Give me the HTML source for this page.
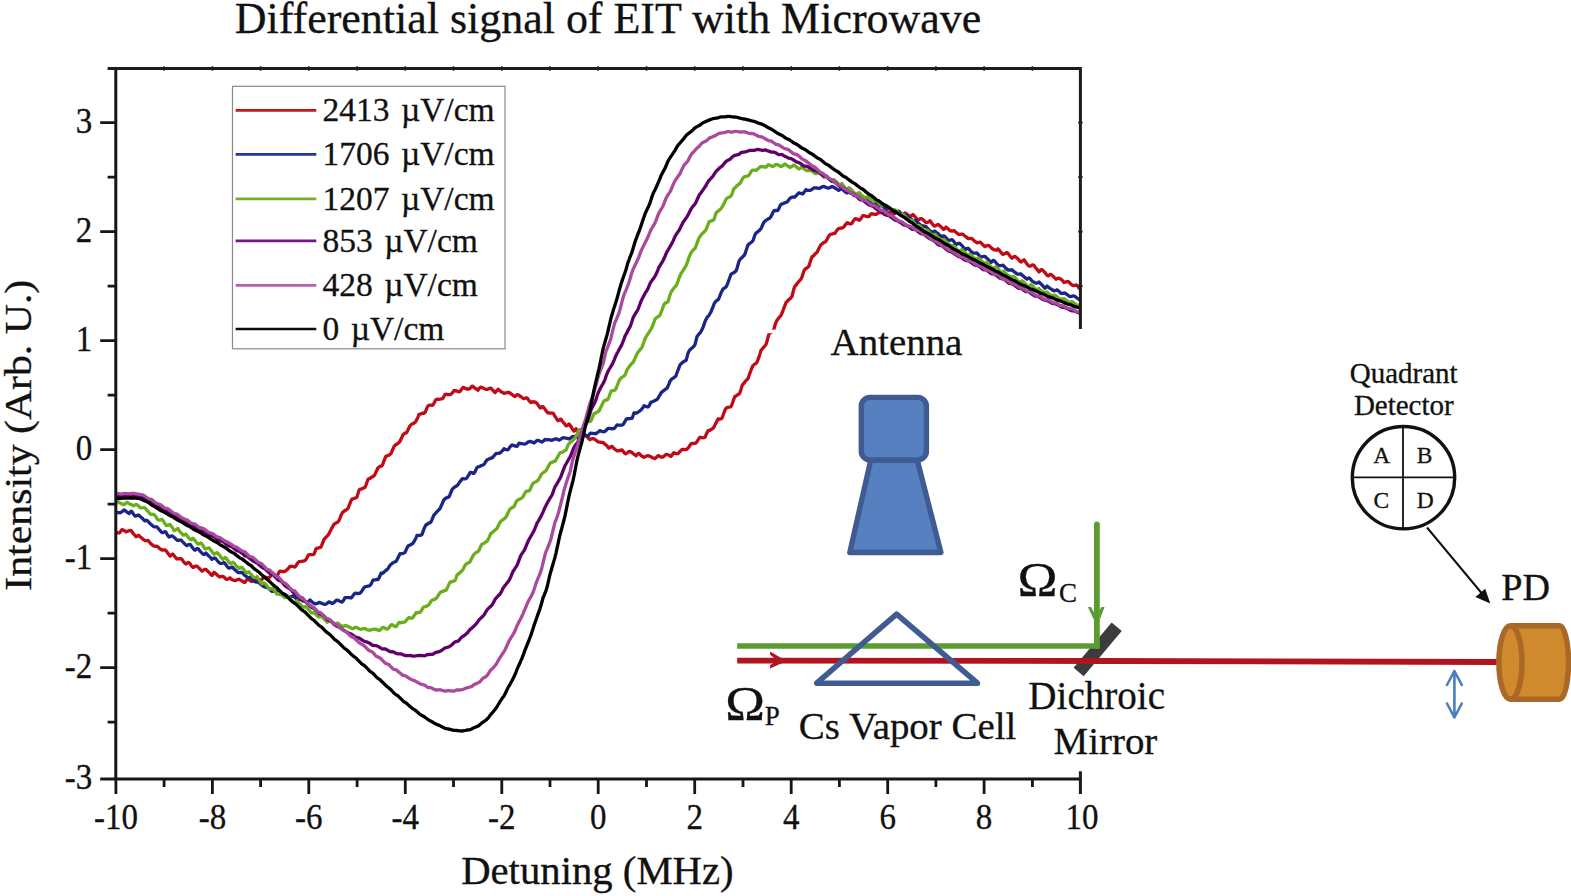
<!DOCTYPE html>
<html><head><meta charset="utf-8"><title>Differential signal of EIT with Microwave</title>
<style>
html,body{margin:0;padding:0;background:#fff;}
body{width:1571px;height:896px;overflow:hidden;}
svg{display:block;}
text{font-family:"Liberation Serif","Times New Roman",serif;fill:#111;stroke:#111;stroke-width:0.3px;}
</style></head><body>
<svg width="1571" height="896" viewBox="0 0 1571 896">
<rect width="1571" height="896" fill="#fff"/>
<g>
<text x="608" y="33.1" font-size="43.8" text-anchor="middle" textLength="746.5" lengthAdjust="spacingAndGlyphs">Differential signal of EIT with Microwave</text>
<g fill="none" stroke-linejoin="round" stroke-linecap="butt">
<path stroke="#c00a14" stroke-width="3.3" d="M116.0 532.2 L117.0 532.5 L118.0 532.8 L119.0 533.0 L120.0 532.4 L121.0 530.8 L122.0 529.6 L123.0 529.8 L124.0 530.5 L125.0 531.0 L126.0 531.9 L127.0 531.3 L128.0 531.1 L129.0 530.7 L130.0 530.6 L131.0 530.4 L132.0 531.8 L133.0 533.2 L134.0 534.4 L135.0 535.5 L136.0 536.8 L137.0 536.3 L138.0 535.5 L139.0 535.5 L140.0 536.7 L141.0 537.5 L142.0 538.3 L143.0 539.1 L144.0 539.8 L145.0 540.6 L146.0 540.7 L147.0 540.6 L148.0 540.5 L149.0 541.4 L150.0 542.7 L151.0 543.9 L152.0 544.6 L153.0 545.4 L154.0 545.9 L155.0 546.4 L156.0 546.2 L157.0 546.4 L158.0 546.8 L159.0 547.9 L160.0 548.8 L161.0 549.5 L162.0 550.1 L163.0 549.8 L164.0 550.0 L165.0 549.9 L166.0 550.6 L167.0 551.9 L168.0 553.6 L169.0 554.5 L170.0 556.1 L171.0 555.5 L172.0 554.6 L173.0 554.1 L174.0 555.5 L175.0 556.8 L176.0 558.0 L177.0 559.0 L178.0 558.8 L179.0 558.9 L180.0 558.6 L181.0 558.6 L182.0 559.3 L183.0 561.0 L184.0 562.2 L185.0 563.3 L186.0 564.0 L187.0 563.3 L188.0 562.5 L189.0 562.6 L190.0 563.7 L191.0 565.2 L192.0 566.5 L193.0 567.4 L194.0 567.1 L195.0 566.4 L196.0 566.0 L197.0 566.2 L198.0 567.2 L199.0 568.1 L200.0 569.0 L201.0 570.2 L202.0 571.2 L203.0 570.5 L204.0 569.7 L205.0 569.3 L206.0 569.4 L207.0 570.6 L208.0 571.5 L209.0 572.5 L210.0 573.3 L211.0 574.7 L212.0 575.5 L213.0 574.0 L214.0 572.3 L215.0 573.1 L216.0 573.8 L217.0 574.9 L218.0 575.7 L219.0 576.7 L220.0 577.0 L221.0 576.7 L222.0 576.3 L223.0 576.3 L224.0 577.2 L225.0 578.1 L226.0 579.2 L227.0 579.4 L228.0 578.9 L229.0 578.4 L230.0 577.8 L231.0 578.9 L232.0 579.5 L233.0 580.0 L234.0 580.4 L235.0 580.7 L236.0 580.2 L237.0 579.9 L238.0 579.5 L239.0 579.2 L240.0 579.8 L241.0 580.4 L242.0 580.9 L243.0 581.7 L244.0 582.4 L245.0 582.3 L246.0 580.7 L247.0 579.5 L248.0 578.9 L249.0 579.8 L250.0 580.4 L251.0 581.3 L252.0 581.5 L253.0 581.3 L254.0 580.4 L255.0 579.6 L256.0 578.8 L257.0 579.0 L258.0 579.5 L259.0 579.6 L260.0 579.6 L261.0 579.7 L262.0 579.4 L263.0 578.0 L264.0 576.5 L265.0 577.0 L266.0 577.3 L267.0 577.7 L268.0 577.8 L269.0 578.1 L270.0 576.8 L271.0 575.6 L272.0 573.9 L273.0 574.3 L274.0 574.7 L275.0 575.0 L276.0 575.4 L277.0 576.0 L278.0 574.2 L279.0 572.3 L280.0 571.1 L281.0 571.3 L282.0 571.5 L283.0 571.5 L284.0 571.6 L285.0 571.2 L286.0 570.7 L287.0 569.7 L288.0 568.8 L289.0 567.7 L290.0 566.3 L291.0 566.4 L292.0 566.2 L293.0 566.6 L294.0 566.8 L295.0 567.0 L296.0 565.9 L297.0 564.0 L298.0 562.7 L299.0 561.6 L300.0 561.7 L301.0 561.3 L302.0 561.3 L303.0 561.1 L304.0 560.8 L305.0 560.5 L306.0 559.6 L307.0 557.7 L308.0 555.6 L309.0 554.7 L310.0 554.6 L311.0 554.6 L312.0 554.6 L313.0 554.6 L314.0 554.2 L315.0 551.6 L316.0 548.9 L317.0 548.2 L318.0 548.2 L319.0 547.8 L320.0 547.4 L321.0 546.9 L322.0 544.6 L323.0 542.2 L324.0 539.4 L325.0 538.3 L326.0 537.2 L327.0 536.3 L328.0 535.1 L329.0 533.8 L330.0 531.5 L331.0 529.8 L332.0 527.7 L333.0 526.0 L334.0 524.2 L335.0 523.6 L336.0 522.9 L337.0 522.4 L338.0 521.9 L339.0 520.5 L340.0 518.1 L341.0 515.5 L342.0 513.4 L343.0 512.0 L344.0 511.4 L345.0 510.3 L346.0 510.1 L347.0 509.3 L348.0 508.5 L349.0 505.9 L350.0 503.4 L351.0 500.8 L352.0 499.0 L353.0 498.8 L354.0 498.5 L355.0 498.2 L356.0 497.8 L357.0 497.1 L358.0 493.6 L359.0 490.3 L360.0 489.1 L361.0 489.2 L362.0 488.8 L363.0 488.3 L364.0 487.8 L365.0 487.5 L366.0 485.0 L367.0 482.2 L368.0 479.3 L369.0 478.8 L370.0 478.4 L371.0 477.6 L372.0 477.1 L373.0 476.4 L374.0 475.8 L375.0 474.5 L376.0 471.9 L377.0 469.9 L378.0 467.8 L379.0 467.1 L380.0 466.4 L381.0 466.2 L382.0 465.7 L383.0 463.7 L384.0 460.8 L385.0 458.3 L386.0 456.2 L387.0 455.8 L388.0 455.5 L389.0 455.1 L390.0 454.4 L391.0 453.7 L392.0 451.1 L393.0 449.1 L394.0 446.5 L395.0 445.5 L396.0 444.4 L397.0 444.1 L398.0 443.3 L399.0 442.4 L400.0 441.2 L401.0 439.0 L402.0 437.0 L403.0 434.8 L404.0 433.9 L405.0 433.1 L406.0 433.0 L407.0 432.1 L408.0 429.8 L409.0 427.7 L410.0 425.8 L411.0 424.8 L412.0 424.0 L413.0 423.6 L414.0 423.0 L415.0 422.4 L416.0 421.1 L417.0 419.1 L418.0 417.2 L419.0 414.3 L420.0 414.1 L421.0 413.8 L422.0 413.3 L423.0 413.1 L424.0 413.3 L425.0 412.5 L426.0 410.4 L427.0 407.7 L428.0 405.9 L429.0 405.4 L430.0 405.2 L431.0 405.1 L432.0 405.3 L433.0 405.1 L434.0 403.2 L435.0 401.2 L436.0 399.5 L437.0 399.3 L438.0 399.2 L439.0 399.3 L440.0 399.2 L441.0 399.0 L442.0 398.8 L443.0 398.1 L444.0 396.4 L445.0 394.6 L446.0 394.2 L447.0 394.3 L448.0 394.6 L449.0 394.6 L450.0 394.7 L451.0 394.2 L452.0 393.2 L453.0 392.1 L454.0 390.5 L455.0 390.8 L456.0 390.7 L457.0 391.2 L458.0 391.5 L459.0 391.9 L460.0 391.5 L461.0 390.0 L462.0 388.8 L463.0 387.4 L464.0 387.8 L465.0 388.3 L466.0 388.8 L467.0 388.7 L468.0 389.2 L469.0 389.1 L470.0 388.6 L471.0 387.3 L472.0 386.1 L473.0 386.6 L474.0 387.4 L475.0 388.0 L476.0 388.9 L477.0 389.3 L478.0 390.2 L479.0 388.8 L480.0 387.5 L481.0 387.2 L482.0 387.4 L483.0 387.9 L484.0 388.4 L485.0 389.0 L486.0 389.3 L487.0 389.5 L488.0 389.1 L489.0 388.6 L490.0 388.2 L491.0 388.2 L492.0 389.3 L493.0 390.6 L494.0 391.5 L495.0 392.6 L496.0 391.6 L497.0 390.4 L498.0 389.2 L499.0 389.9 L500.0 390.9 L501.0 391.7 L502.0 392.3 L503.0 392.8 L504.0 393.3 L505.0 393.2 L506.0 392.8 L507.0 392.6 L508.0 392.2 L509.0 392.6 L510.0 393.1 L511.0 393.9 L512.0 394.5 L513.0 395.3 L514.0 396.0 L515.0 396.6 L516.0 395.6 L517.0 394.7 L518.0 394.8 L519.0 395.3 L520.0 396.2 L521.0 396.6 L522.0 397.6 L523.0 398.2 L524.0 398.7 L525.0 398.3 L526.0 397.9 L527.0 397.9 L528.0 399.1 L529.0 400.6 L530.0 401.8 L531.0 402.6 L532.0 401.9 L533.0 401.7 L534.0 402.2 L535.0 401.9 L536.0 402.5 L537.0 403.4 L538.0 405.0 L539.0 406.3 L540.0 407.8 L541.0 407.8 L542.0 406.7 L543.0 406.6 L544.0 407.9 L545.0 409.2 L546.0 410.6 L547.0 412.1 L548.0 413.0 L549.0 412.8 L550.0 413.1 L551.0 413.1 L552.0 413.2 L553.0 413.1 L554.0 414.6 L555.0 416.3 L556.0 417.9 L557.0 419.5 L558.0 420.7 L559.0 420.3 L560.0 419.6 L561.0 419.1 L562.0 420.8 L563.0 422.0 L564.0 423.1 L565.0 424.4 L566.0 425.8 L567.0 425.7 L568.0 425.0 L569.0 424.0 L570.0 425.1 L571.0 426.8 L572.0 428.2 L573.0 430.1 L574.0 431.2 L575.0 430.5 L576.0 428.7 L577.0 430.0 L578.0 430.9 L579.0 432.1 L580.0 433.1 L581.0 433.7 L582.0 434.7 L583.0 434.6 L584.0 434.6 L585.0 434.7 L586.0 435.6 L587.0 436.6 L588.0 437.8 L589.0 438.8 L590.0 439.7 L591.0 438.9 L592.0 438.9 L593.0 438.5 L594.0 438.8 L595.0 439.5 L596.0 440.2 L597.0 441.1 L598.0 441.7 L599.0 442.2 L600.0 442.2 L601.0 442.5 L602.0 442.3 L603.0 442.3 L604.0 443.4 L605.0 444.2 L606.0 445.0 L607.0 445.8 L608.0 447.3 L609.0 448.2 L610.0 447.4 L611.0 446.7 L612.0 446.4 L613.0 447.6 L614.0 448.4 L615.0 449.3 L616.0 450.0 L617.0 450.8 L618.0 450.8 L619.0 450.5 L620.0 450.5 L621.0 450.2 L622.0 449.9 L623.0 451.1 L624.0 452.5 L625.0 453.5 L626.0 453.8 L627.0 453.0 L628.0 452.3 L629.0 451.4 L630.0 451.5 L631.0 452.1 L632.0 452.6 L633.0 453.4 L634.0 454.3 L635.0 454.8 L636.0 455.8 L637.0 454.7 L638.0 453.8 L639.0 453.4 L640.0 454.4 L641.0 455.4 L642.0 456.2 L643.0 456.6 L644.0 457.3 L645.0 456.9 L646.0 456.3 L647.0 455.9 L648.0 455.7 L649.0 455.8 L650.0 456.4 L651.0 456.8 L652.0 457.4 L653.0 457.9 L654.0 458.3 L655.0 458.7 L656.0 457.6 L657.0 456.8 L658.0 455.6 L659.0 456.1 L660.0 456.6 L661.0 457.0 L662.0 457.0 L663.0 457.1 L664.0 456.1 L665.0 455.4 L666.0 454.4 L667.0 454.6 L668.0 454.9 L669.0 455.1 L670.0 455.9 L671.0 456.4 L672.0 455.3 L673.0 453.4 L674.0 452.7 L675.0 453.3 L676.0 453.6 L677.0 453.7 L678.0 453.7 L679.0 452.5 L680.0 451.5 L681.0 450.3 L682.0 449.6 L683.0 449.3 L684.0 449.5 L685.0 449.6 L686.0 449.5 L687.0 449.1 L688.0 448.1 L689.0 446.9 L690.0 445.2 L691.0 443.8 L692.0 443.4 L693.0 443.6 L694.0 443.5 L695.0 443.2 L696.0 443.2 L697.0 441.7 L698.0 440.0 L699.0 438.3 L700.0 437.2 L701.0 437.7 L702.0 437.7 L703.0 437.8 L704.0 437.7 L705.0 437.3 L706.0 434.9 L707.0 432.7 L708.0 430.6 L709.0 430.7 L710.0 430.2 L711.0 429.4 L712.0 428.9 L713.0 428.3 L714.0 427.0 L715.0 424.9 L716.0 422.9 L717.0 421.2 L718.0 418.9 L719.0 419.3 L720.0 419.0 L721.0 418.9 L722.0 418.2 L723.0 415.5 L724.0 412.8 L725.0 410.1 L726.0 408.3 L727.0 407.6 L728.0 407.3 L729.0 407.2 L730.0 407.0 L731.0 406.6 L732.0 404.5 L733.0 401.5 L734.0 398.6 L735.0 396.3 L736.0 396.0 L737.0 395.3 L738.0 394.3 L739.0 394.1 L740.0 392.5 L741.0 389.4 L742.0 385.9 L743.0 384.1 L744.0 383.3 L745.0 381.7 L746.0 380.7 L747.0 379.6 L748.0 378.6 L749.0 375.7 L750.0 372.9 L751.0 370.2 L752.0 367.6 L753.0 365.5 L754.0 364.8 L755.0 363.8 L756.0 363.5 L757.0 362.3 L758.0 359.6 L759.0 356.7 L760.0 353.7 L761.0 350.4 L762.0 349.2 L763.0 348.0 L764.0 346.8 L765.0 345.8 L766.0 344.4 L767.0 341.3 L768.0 337.3 L769.0 333.9 L770.0 333.0 L771.0 332.5 L772.0 331.8 L773.0 330.5 L774.0 328.7 L775.0 325.2 L776.0 322.3 L777.0 320.2 L778.0 318.9 L779.0 317.7 L780.0 316.6 L781.0 315.4 L782.0 313.0 L783.0 310.7 L784.0 307.8 L785.0 305.4 L786.0 302.4 L787.0 301.5 L788.0 300.6 L789.0 299.4 L790.0 298.8 L791.0 297.7 L792.0 296.6 L793.0 292.3 L794.0 288.5 L795.0 286.1 L796.0 285.2 L797.0 283.8 L798.0 282.4 L799.0 281.2 L800.0 280.3 L801.0 279.0 L802.0 276.9 L803.0 273.7 L804.0 270.8 L805.0 269.2 L806.0 268.4 L807.0 267.9 L808.0 267.0 L809.0 266.0 L810.0 262.6 L811.0 259.5 L812.0 256.8 L813.0 256.3 L814.0 255.4 L815.0 253.9 L816.0 253.2 L817.0 252.5 L818.0 250.4 L819.0 248.2 L820.0 246.1 L821.0 244.7 L822.0 244.1 L823.0 243.2 L824.0 242.3 L825.0 242.1 L826.0 241.1 L827.0 239.5 L828.0 237.4 L829.0 235.8 L830.0 234.6 L831.0 234.2 L832.0 234.2 L833.0 233.6 L834.0 233.5 L835.0 233.3 L836.0 231.7 L837.0 230.2 L838.0 229.1 L839.0 228.6 L840.0 228.2 L841.0 228.1 L842.0 228.1 L843.0 227.6 L844.0 226.7 L845.0 225.3 L846.0 224.1 L847.0 222.7 L848.0 223.1 L849.0 223.5 L850.0 223.9 L851.0 223.9 L852.0 223.3 L853.0 221.2 L854.0 220.0 L855.0 218.7 L856.0 218.9 L857.0 219.1 L858.0 219.4 L859.0 220.3 L860.0 219.8 L861.0 218.4 L862.0 216.9 L863.0 215.6 L864.0 215.7 L865.0 216.0 L866.0 216.3 L867.0 216.6 L868.0 216.6 L869.0 216.6 L870.0 215.1 L871.0 213.8 L872.0 213.7 L873.0 214.1 L874.0 214.2 L875.0 214.3 L876.0 214.5 L877.0 213.8 L878.0 213.0 L879.0 212.5 L880.0 212.7 L881.0 212.7 L882.0 212.9 L883.0 213.1 L884.0 213.8 L885.0 214.1 L886.0 213.6 L887.0 212.9 L888.0 212.1 L889.0 212.1 L890.0 212.6 L891.0 213.3 L892.0 214.0 L893.0 214.7 L894.0 214.1 L895.0 213.2 L896.0 212.4 L897.0 211.4 L898.0 212.3 L899.0 212.9 L900.0 213.6 L901.0 214.3 L902.0 215.3 L903.0 215.2 L904.0 213.6 L905.0 212.9 L906.0 213.5 L907.0 214.4 L908.0 215.2 L909.0 215.9 L910.0 216.3 L911.0 215.8 L912.0 215.4 L913.0 214.5 L914.0 215.6 L915.0 216.7 L916.0 218.0 L917.0 219.0 L918.0 220.1 L919.0 219.6 L920.0 218.9 L921.0 218.6 L922.0 218.9 L923.0 219.8 L924.0 220.6 L925.0 221.8 L926.0 222.5 L927.0 222.7 L928.0 222.1 L929.0 221.7 L930.0 220.7 L931.0 222.0 L932.0 223.6 L933.0 224.8 L934.0 226.0 L935.0 226.0 L936.0 225.4 L937.0 225.0 L938.0 224.4 L939.0 225.0 L940.0 225.9 L941.0 226.8 L942.0 227.8 L943.0 229.1 L944.0 229.4 L945.0 228.4 L946.0 227.1 L947.0 228.1 L948.0 228.7 L949.0 229.8 L950.0 230.6 L951.0 230.9 L952.0 231.0 L953.0 231.0 L954.0 230.6 L955.0 231.3 L956.0 232.3 L957.0 233.2 L958.0 233.9 L959.0 234.5 L960.0 234.3 L961.0 234.2 L962.0 234.1 L963.0 234.4 L964.0 235.3 L965.0 236.1 L966.0 236.8 L967.0 237.6 L968.0 238.4 L969.0 238.6 L970.0 238.5 L971.0 238.3 L972.0 238.6 L973.0 239.6 L974.0 240.7 L975.0 241.3 L976.0 242.2 L977.0 242.8 L978.0 242.7 L979.0 242.3 L980.0 242.1 L981.0 242.9 L982.0 243.9 L983.0 244.9 L984.0 245.9 L985.0 246.7 L986.0 246.1 L987.0 245.6 L988.0 245.4 L989.0 245.6 L990.0 246.7 L991.0 247.4 L992.0 248.6 L993.0 249.1 L994.0 249.8 L995.0 249.9 L996.0 250.2 L997.0 250.2 L998.0 248.8 L999.0 249.8 L1000.0 251.2 L1001.0 252.4 L1002.0 253.6 L1003.0 254.3 L1004.0 254.0 L1005.0 253.5 L1006.0 253.1 L1007.0 252.5 L1008.0 253.4 L1009.0 254.6 L1010.0 256.0 L1011.0 257.3 L1012.0 258.2 L1013.0 257.5 L1014.0 256.6 L1015.0 256.4 L1016.0 257.2 L1017.0 258.2 L1018.0 258.9 L1019.0 260.1 L1020.0 261.3 L1021.0 262.0 L1022.0 261.4 L1023.0 260.5 L1024.0 259.8 L1025.0 261.0 L1026.0 262.8 L1027.0 264.0 L1028.0 265.3 L1029.0 266.0 L1030.0 266.1 L1031.0 265.8 L1032.0 265.0 L1033.0 264.8 L1034.0 265.4 L1035.0 267.1 L1036.0 268.1 L1037.0 269.3 L1038.0 270.7 L1039.0 271.9 L1040.0 270.9 L1041.0 269.6 L1042.0 269.7 L1043.0 270.6 L1044.0 271.7 L1045.0 272.6 L1046.0 273.9 L1047.0 275.2 L1048.0 275.9 L1049.0 275.4 L1050.0 274.4 L1051.0 274.4 L1052.0 275.3 L1053.0 276.0 L1054.0 277.2 L1055.0 278.0 L1056.0 279.2 L1057.0 278.7 L1058.0 278.4 L1059.0 278.1 L1060.0 278.7 L1061.0 279.2 L1062.0 280.2 L1063.0 281.2 L1064.0 282.5 L1065.0 282.2 L1066.0 282.1 L1067.0 281.6 L1068.0 281.5 L1069.0 282.1 L1070.0 283.3 L1071.0 284.1 L1072.0 285.2 L1073.0 285.4 L1074.0 285.5 L1075.0 285.4 L1076.0 284.9 L1077.0 285.3 L1078.0 286.5 L1079.0 288.0 L1080.0 288.8 L1081.0 289.6"/>
<path stroke="#1b2487" stroke-width="3.3" d="M116.0 512.1 L117.0 512.3 L118.0 512.6 L119.0 512.7 L120.0 512.9 L121.0 512.3 L122.0 511.7 L123.0 510.8 L124.0 509.9 L125.0 510.5 L126.0 511.4 L127.0 512.0 L128.0 512.8 L129.0 513.6 L130.0 512.5 L131.0 511.1 L132.0 511.7 L133.0 513.5 L134.0 514.7 L135.0 516.0 L136.0 516.0 L137.0 515.5 L138.0 515.1 L139.0 515.2 L140.0 516.5 L141.0 517.2 L142.0 518.0 L143.0 519.0 L144.0 520.2 L145.0 521.0 L146.0 520.2 L147.0 520.5 L148.0 521.3 L149.0 522.5 L150.0 523.4 L151.0 524.4 L152.0 525.2 L153.0 526.2 L154.0 526.6 L155.0 526.8 L156.0 526.9 L157.0 527.0 L158.0 528.1 L159.0 529.4 L160.0 530.4 L161.0 531.6 L162.0 532.6 L163.0 532.7 L164.0 532.0 L165.0 531.7 L166.0 532.4 L167.0 534.2 L168.0 535.8 L169.0 537.1 L170.0 536.6 L171.0 536.1 L172.0 535.9 L173.0 536.5 L174.0 537.3 L175.0 538.2 L176.0 539.2 L177.0 540.1 L178.0 540.4 L179.0 540.1 L180.0 540.2 L181.0 540.0 L182.0 541.1 L183.0 542.1 L184.0 543.1 L185.0 544.2 L186.0 545.1 L187.0 545.7 L188.0 545.0 L189.0 544.5 L190.0 544.3 L191.0 545.6 L192.0 546.9 L193.0 548.2 L194.0 549.5 L195.0 550.3 L196.0 549.5 L197.0 548.6 L198.0 548.7 L199.0 549.8 L200.0 551.0 L201.0 552.2 L202.0 553.2 L203.0 554.2 L204.0 554.5 L205.0 553.9 L206.0 552.9 L207.0 554.2 L208.0 555.3 L209.0 556.2 L210.0 557.2 L211.0 558.2 L212.0 559.3 L213.0 558.7 L214.0 558.0 L215.0 558.1 L216.0 558.9 L217.0 560.3 L218.0 561.5 L219.0 562.4 L220.0 563.3 L221.0 563.5 L222.0 563.3 L223.0 563.0 L224.0 562.7 L225.0 563.4 L226.0 564.9 L227.0 566.2 L228.0 567.4 L229.0 568.2 L230.0 568.0 L231.0 567.5 L232.0 567.0 L233.0 567.7 L234.0 569.0 L235.0 569.8 L236.0 570.6 L237.0 571.6 L238.0 572.5 L239.0 572.7 L240.0 572.5 L241.0 572.4 L242.0 572.6 L243.0 573.4 L244.0 574.6 L245.0 575.4 L246.0 576.2 L247.0 577.1 L248.0 577.6 L249.0 577.6 L250.0 577.5 L251.0 577.9 L252.0 578.7 L253.0 579.8 L254.0 580.5 L255.0 581.6 L256.0 582.2 L257.0 581.9 L258.0 581.9 L259.0 582.4 L260.0 583.6 L261.0 584.5 L262.0 585.3 L263.0 586.0 L264.0 586.6 L265.0 587.0 L266.0 587.4 L267.0 587.1 L268.0 587.8 L269.0 588.6 L270.0 589.8 L271.0 590.6 L272.0 591.4 L273.0 591.4 L274.0 591.2 L275.0 590.8 L276.0 591.0 L277.0 591.7 L278.0 592.5 L279.0 593.3 L280.0 594.1 L281.0 594.1 L282.0 594.1 L283.0 593.9 L284.0 593.9 L285.0 594.5 L286.0 595.0 L287.0 595.8 L288.0 596.6 L289.0 597.3 L290.0 596.9 L291.0 596.6 L292.0 596.3 L293.0 595.9 L294.0 596.7 L295.0 597.4 L296.0 598.3 L297.0 599.2 L298.0 599.8 L299.0 599.6 L300.0 598.9 L301.0 598.3 L302.0 597.7 L303.0 598.7 L304.0 600.0 L305.0 601.2 L306.0 602.0 L307.0 602.8 L308.0 601.8 L309.0 601.0 L310.0 600.0 L311.0 601.0 L312.0 601.8 L313.0 602.8 L314.0 603.2 L315.0 603.8 L316.0 603.8 L317.0 603.4 L318.0 603.1 L319.0 602.4 L320.0 602.8 L321.0 602.9 L322.0 603.5 L323.0 603.8 L324.0 604.1 L325.0 604.3 L326.0 604.2 L327.0 603.5 L328.0 602.6 L329.0 601.8 L330.0 602.3 L331.0 602.8 L332.0 603.5 L333.0 603.2 L334.0 602.4 L335.0 601.5 L336.0 600.5 L337.0 600.1 L338.0 600.3 L339.0 600.8 L340.0 601.5 L341.0 601.7 L342.0 602.1 L343.0 601.1 L344.0 599.6 L345.0 597.6 L346.0 597.6 L347.0 597.7 L348.0 597.7 L349.0 597.7 L350.0 597.7 L351.0 598.0 L352.0 597.2 L353.0 595.6 L354.0 594.3 L355.0 593.1 L356.0 593.4 L357.0 593.5 L358.0 593.5 L359.0 593.4 L360.0 593.1 L361.0 592.3 L362.0 590.9 L363.0 589.2 L364.0 587.6 L365.0 586.9 L366.0 586.6 L367.0 586.4 L368.0 586.2 L369.0 586.0 L370.0 585.4 L371.0 584.2 L372.0 582.2 L373.0 580.1 L374.0 579.9 L375.0 579.8 L376.0 579.8 L377.0 579.4 L378.0 579.5 L379.0 578.0 L380.0 575.8 L381.0 573.1 L382.0 573.7 L383.0 572.9 L384.0 572.1 L385.0 571.1 L386.0 570.4 L387.0 569.6 L388.0 568.6 L389.0 566.9 L390.0 565.3 L391.0 564.3 L392.0 563.6 L393.0 562.7 L394.0 562.3 L395.0 561.8 L396.0 561.4 L397.0 559.8 L398.0 557.8 L399.0 555.8 L400.0 553.7 L401.0 553.8 L402.0 553.6 L403.0 553.4 L404.0 553.0 L405.0 552.4 L406.0 550.3 L407.0 548.1 L408.0 546.1 L409.0 545.6 L410.0 545.1 L411.0 544.5 L412.0 544.2 L413.0 543.2 L414.0 541.6 L415.0 539.8 L416.0 538.0 L417.0 535.4 L418.0 535.3 L419.0 535.3 L420.0 535.5 L421.0 535.2 L422.0 534.5 L423.0 531.6 L424.0 528.9 L425.0 526.7 L426.0 524.6 L427.0 524.5 L428.0 523.6 L429.0 522.9 L430.0 522.8 L431.0 521.9 L432.0 519.6 L433.0 517.1 L434.0 514.8 L435.0 514.0 L436.0 512.8 L437.0 511.6 L438.0 510.6 L439.0 509.7 L440.0 508.7 L441.0 506.3 L442.0 504.1 L443.0 501.8 L444.0 499.7 L445.0 498.9 L446.0 498.1 L447.0 497.5 L448.0 497.4 L449.0 496.8 L450.0 494.6 L451.0 492.1 L452.0 489.6 L453.0 488.5 L454.0 487.5 L455.0 486.8 L456.0 486.1 L457.0 485.8 L458.0 484.6 L459.0 483.1 L460.0 481.5 L461.0 480.6 L462.0 478.8 L463.0 478.7 L464.0 478.8 L465.0 478.8 L466.0 478.7 L467.0 477.7 L468.0 476.0 L469.0 474.7 L470.0 472.6 L471.0 472.4 L472.0 472.6 L473.0 473.3 L474.0 473.3 L475.0 471.8 L476.0 469.5 L477.0 467.6 L478.0 466.8 L479.0 466.6 L480.0 466.3 L481.0 465.6 L482.0 465.3 L483.0 465.0 L484.0 464.3 L485.0 462.8 L486.0 461.2 L487.0 459.9 L488.0 459.5 L489.0 458.8 L490.0 458.6 L491.0 458.0 L492.0 458.0 L493.0 457.0 L494.0 455.9 L495.0 454.6 L496.0 453.5 L497.0 453.5 L498.0 453.3 L499.0 453.3 L500.0 452.9 L501.0 452.1 L502.0 451.1 L503.0 450.2 L504.0 448.7 L505.0 449.2 L506.0 449.5 L507.0 449.8 L508.0 449.7 L509.0 448.4 L510.0 446.9 L511.0 445.8 L512.0 444.9 L513.0 445.3 L514.0 445.6 L515.0 445.9 L516.0 446.3 L517.0 446.5 L518.0 444.8 L519.0 443.2 L520.0 443.3 L521.0 443.6 L522.0 443.7 L523.0 443.8 L524.0 444.0 L525.0 444.2 L526.0 443.6 L527.0 442.9 L528.0 442.1 L529.0 441.7 L530.0 441.3 L531.0 441.8 L532.0 441.9 L533.0 442.5 L534.0 443.0 L535.0 442.2 L536.0 441.3 L537.0 440.4 L538.0 440.3 L539.0 440.7 L540.0 441.1 L541.0 441.7 L542.0 442.0 L543.0 441.4 L544.0 440.3 L545.0 439.4 L546.0 439.8 L547.0 439.9 L548.0 439.7 L549.0 439.7 L550.0 439.9 L551.0 440.3 L552.0 440.2 L553.0 439.9 L554.0 439.3 L555.0 439.0 L556.0 438.9 L557.0 439.1 L558.0 439.4 L559.0 440.1 L560.0 439.7 L561.0 439.1 L562.0 438.2 L563.0 437.8 L564.0 437.7 L565.0 438.0 L566.0 438.2 L567.0 438.4 L568.0 438.7 L569.0 439.0 L570.0 438.3 L571.0 437.7 L572.0 437.0 L573.0 436.4 L574.0 436.4 L575.0 436.5 L576.0 437.0 L577.0 437.6 L578.0 437.9 L579.0 437.1 L580.0 436.1 L581.0 435.1 L582.0 434.1 L583.0 434.4 L584.0 434.7 L585.0 435.5 L586.0 435.7 L587.0 435.9 L588.0 435.9 L589.0 434.8 L590.0 433.5 L591.0 433.2 L592.0 433.3 L593.0 433.4 L594.0 433.5 L595.0 433.7 L596.0 433.6 L597.0 432.8 L598.0 432.2 L599.0 431.5 L600.0 430.6 L601.0 431.1 L602.0 431.4 L603.0 431.6 L604.0 431.8 L605.0 431.3 L606.0 430.4 L607.0 429.5 L608.0 428.4 L609.0 428.3 L610.0 428.5 L611.0 428.6 L612.0 428.9 L613.0 428.7 L614.0 428.7 L615.0 427.5 L616.0 426.3 L617.0 425.0 L618.0 425.1 L619.0 425.1 L620.0 425.2 L621.0 425.1 L622.0 425.2 L623.0 424.6 L624.0 423.2 L625.0 421.4 L626.0 419.6 L627.0 418.7 L628.0 418.9 L629.0 418.6 L630.0 418.6 L631.0 418.4 L632.0 418.3 L633.0 415.8 L634.0 412.9 L635.0 413.3 L636.0 413.0 L637.0 412.9 L638.0 412.2 L639.0 411.5 L640.0 410.7 L641.0 410.0 L642.0 408.7 L643.0 407.5 L644.0 405.7 L645.0 406.1 L646.0 406.5 L647.0 406.9 L648.0 406.9 L649.0 406.1 L650.0 404.1 L651.0 402.0 L652.0 401.8 L653.0 401.5 L654.0 401.0 L655.0 400.4 L656.0 399.9 L657.0 399.5 L658.0 398.3 L659.0 396.4 L660.0 394.9 L661.0 392.9 L662.0 392.2 L663.0 391.2 L664.0 390.3 L665.0 389.6 L666.0 388.8 L667.0 388.4 L668.0 386.1 L669.0 383.8 L670.0 381.2 L671.0 379.9 L672.0 378.9 L673.0 378.2 L674.0 377.6 L675.0 376.8 L676.0 375.8 L677.0 372.7 L678.0 370.2 L679.0 367.7 L680.0 364.8 L681.0 363.8 L682.0 362.9 L683.0 362.1 L684.0 361.4 L685.0 360.8 L686.0 360.4 L687.0 357.2 L688.0 353.2 L689.0 351.2 L690.0 349.7 L691.0 348.8 L692.0 348.0 L693.0 347.2 L694.0 346.1 L695.0 344.6 L696.0 340.7 L697.0 336.6 L698.0 335.3 L699.0 333.9 L700.0 333.0 L701.0 331.4 L702.0 329.7 L703.0 327.4 L704.0 324.6 L705.0 321.6 L706.0 319.3 L707.0 317.6 L708.0 316.3 L709.0 315.3 L710.0 313.5 L711.0 311.9 L712.0 309.1 L713.0 307.1 L714.0 304.0 L715.0 302.4 L716.0 301.1 L717.0 300.4 L718.0 299.8 L719.0 298.1 L720.0 295.5 L721.0 293.1 L722.0 291.1 L723.0 289.0 L724.0 288.5 L725.0 287.7 L726.0 286.8 L727.0 285.1 L728.0 282.5 L729.0 279.8 L730.0 277.0 L731.0 274.4 L732.0 273.7 L733.0 273.0 L734.0 272.6 L735.0 271.9 L736.0 270.8 L737.0 268.5 L738.0 264.8 L739.0 261.2 L740.0 259.5 L741.0 258.4 L742.0 257.5 L743.0 256.5 L744.0 255.6 L745.0 253.9 L746.0 250.8 L747.0 247.7 L748.0 244.9 L749.0 244.0 L750.0 243.2 L751.0 242.5 L752.0 241.7 L753.0 240.7 L754.0 237.7 L755.0 234.8 L756.0 233.0 L757.0 232.4 L758.0 231.7 L759.0 230.7 L760.0 229.8 L761.0 228.5 L762.0 226.5 L763.0 223.9 L764.0 222.0 L765.0 221.2 L766.0 220.3 L767.0 219.7 L768.0 219.0 L769.0 218.6 L770.0 218.0 L771.0 216.3 L772.0 214.6 L773.0 212.2 L774.0 210.9 L775.0 210.5 L776.0 210.4 L777.0 210.6 L778.0 210.2 L779.0 208.3 L780.0 205.9 L781.0 204.4 L782.0 204.0 L783.0 203.6 L784.0 203.1 L785.0 202.7 L786.0 202.4 L787.0 201.9 L788.0 201.0 L789.0 199.5 L790.0 198.3 L791.0 197.6 L792.0 197.2 L793.0 197.0 L794.0 196.9 L795.0 197.0 L796.0 195.9 L797.0 194.7 L798.0 193.7 L799.0 192.8 L800.0 193.4 L801.0 193.4 L802.0 193.8 L803.0 193.8 L804.0 192.2 L805.0 191.0 L806.0 189.6 L807.0 190.4 L808.0 190.3 L809.0 190.4 L810.0 190.4 L811.0 190.0 L812.0 189.3 L813.0 188.6 L814.0 187.9 L815.0 187.8 L816.0 187.9 L817.0 188.0 L818.0 188.2 L819.0 188.3 L820.0 188.1 L821.0 187.5 L822.0 186.9 L823.0 186.6 L824.0 186.4 L825.0 187.0 L826.0 187.3 L827.0 187.8 L828.0 188.2 L829.0 188.0 L830.0 187.4 L831.0 186.9 L832.0 186.6 L833.0 186.7 L834.0 187.6 L835.0 188.1 L836.0 188.6 L837.0 189.2 L838.0 190.1 L839.0 190.3 L840.0 189.5 L841.0 188.8 L842.0 188.7 L843.0 189.8 L844.0 190.8 L845.0 191.6 L846.0 192.5 L847.0 192.9 L848.0 192.4 L849.0 192.2 L850.0 192.1 L851.0 193.1 L852.0 193.7 L853.0 194.7 L854.0 195.4 L855.0 195.6 L856.0 195.5 L857.0 195.5 L858.0 195.0 L859.0 196.1 L860.0 197.2 L861.0 198.4 L862.0 199.7 L863.0 199.3 L864.0 198.8 L865.0 198.3 L866.0 198.8 L867.0 200.0 L868.0 201.1 L869.0 202.2 L870.0 202.9 L871.0 202.8 L872.0 202.4 L873.0 202.4 L874.0 202.3 L875.0 203.2 L876.0 204.0 L877.0 205.1 L878.0 205.9 L879.0 206.4 L880.0 205.9 L881.0 205.7 L882.0 205.2 L883.0 206.4 L884.0 207.5 L885.0 208.4 L886.0 209.5 L887.0 208.9 L888.0 208.5 L889.0 208.0 L890.0 208.2 L891.0 209.0 L892.0 209.9 L893.0 210.7 L894.0 211.8 L895.0 212.2 L896.0 212.2 L897.0 211.6 L898.0 211.4 L899.0 211.2 L900.0 212.5 L901.0 213.5 L902.0 214.6 L903.0 215.6 L904.0 216.8 L905.0 216.5 L906.0 216.0 L907.0 215.3 L908.0 216.8 L909.0 217.4 L910.0 218.1 L911.0 218.8 L912.0 219.8 L913.0 220.8 L914.0 220.8 L915.0 220.7 L916.0 220.6 L917.0 222.0 L918.0 222.9 L919.0 223.7 L920.0 224.6 L921.0 225.6 L922.0 226.1 L923.0 225.9 L924.0 226.1 L925.0 226.4 L926.0 226.7 L927.0 227.8 L928.0 228.8 L929.0 229.9 L930.0 230.9 L931.0 231.9 L932.0 231.8 L933.0 231.6 L934.0 231.2 L935.0 231.2 L936.0 232.3 L937.0 232.9 L938.0 233.5 L939.0 234.5 L940.0 235.4 L941.0 236.3 L942.0 236.2 L943.0 236.3 L944.0 235.9 L945.0 236.9 L946.0 237.6 L947.0 239.0 L948.0 239.9 L949.0 240.4 L950.0 240.1 L951.0 240.0 L952.0 239.6 L953.0 240.5 L954.0 241.7 L955.0 243.3 L956.0 244.5 L957.0 244.0 L958.0 243.6 L959.0 243.2 L960.0 243.6 L961.0 244.7 L962.0 245.7 L963.0 246.8 L964.0 247.8 L965.0 249.0 L966.0 249.5 L967.0 248.6 L968.0 248.2 L969.0 249.0 L970.0 250.4 L971.0 251.5 L972.0 252.2 L973.0 253.0 L974.0 253.2 L975.0 253.1 L976.0 253.1 L977.0 253.0 L978.0 254.3 L979.0 255.2 L980.0 256.5 L981.0 257.2 L982.0 256.9 L983.0 256.5 L984.0 256.3 L985.0 256.3 L986.0 257.4 L987.0 258.4 L988.0 259.2 L989.0 260.4 L990.0 261.6 L991.0 262.4 L992.0 261.6 L993.0 260.3 L994.0 260.6 L995.0 261.5 L996.0 262.8 L997.0 264.0 L998.0 265.0 L999.0 265.7 L1000.0 265.7 L1001.0 265.6 L1002.0 265.4 L1003.0 265.1 L1004.0 266.2 L1005.0 267.3 L1006.0 268.3 L1007.0 269.1 L1008.0 270.1 L1009.0 270.0 L1010.0 270.0 L1011.0 270.1 L1012.0 269.7 L1013.0 270.8 L1014.0 271.5 L1015.0 272.4 L1016.0 273.0 L1017.0 273.9 L1018.0 274.1 L1019.0 274.1 L1020.0 274.0 L1021.0 273.9 L1022.0 275.1 L1023.0 275.8 L1024.0 276.7 L1025.0 277.5 L1026.0 278.5 L1027.0 279.2 L1028.0 278.5 L1029.0 277.9 L1030.0 278.6 L1031.0 279.8 L1032.0 280.9 L1033.0 281.6 L1034.0 282.2 L1035.0 282.8 L1036.0 283.2 L1037.0 283.0 L1038.0 282.9 L1039.0 281.9 L1040.0 283.0 L1041.0 283.9 L1042.0 285.0 L1043.0 286.0 L1044.0 287.3 L1045.0 288.2 L1046.0 287.3 L1047.0 286.1 L1048.0 286.9 L1049.0 287.6 L1050.0 288.3 L1051.0 288.9 L1052.0 289.7 L1053.0 290.1 L1054.0 290.9 L1055.0 290.5 L1056.0 290.4 L1057.0 289.8 L1058.0 290.7 L1059.0 291.4 L1060.0 292.3 L1061.0 293.3 L1062.0 293.5 L1063.0 293.4 L1064.0 292.8 L1065.0 293.0 L1066.0 293.9 L1067.0 294.5 L1068.0 295.2 L1069.0 296.1 L1070.0 296.7 L1071.0 296.5 L1072.0 296.1 L1073.0 296.0 L1074.0 295.8 L1075.0 296.5 L1076.0 297.2 L1077.0 298.0 L1078.0 298.7 L1079.0 299.3 L1080.0 299.4 L1081.0 299.2"/>
<path stroke="#6aae1c" stroke-width="3.3" d="M116.0 504.0 L117.0 502.7 L118.0 502.0 L119.0 502.5 L120.0 502.8 L121.0 503.5 L122.0 504.0 L123.0 504.4 L124.0 504.7 L125.0 503.8 L126.0 503.1 L127.0 502.4 L128.0 502.8 L129.0 503.4 L130.0 504.1 L131.0 504.4 L132.0 504.9 L133.0 505.6 L134.0 505.5 L135.0 505.0 L136.0 504.5 L137.0 504.7 L138.0 505.6 L139.0 506.5 L140.0 507.5 L141.0 507.9 L142.0 507.8 L143.0 507.7 L144.0 507.5 L145.0 508.1 L146.0 509.2 L147.0 510.3 L148.0 511.4 L149.0 512.5 L150.0 513.7 L151.0 514.3 L152.0 514.4 L153.0 514.4 L154.0 514.4 L155.0 515.7 L156.0 516.8 L157.0 518.7 L158.0 519.8 L159.0 520.2 L160.0 520.0 L161.0 519.6 L162.0 519.2 L163.0 520.5 L164.0 522.1 L165.0 523.8 L166.0 525.3 L167.0 525.5 L168.0 525.0 L169.0 525.0 L170.0 524.5 L171.0 525.9 L172.0 527.2 L173.0 528.7 L174.0 530.5 L175.0 530.4 L176.0 529.8 L177.0 529.0 L178.0 528.5 L179.0 530.3 L180.0 531.8 L181.0 532.8 L182.0 533.8 L183.0 535.1 L184.0 534.9 L185.0 534.4 L186.0 534.2 L187.0 535.7 L188.0 537.0 L189.0 538.1 L190.0 539.3 L191.0 539.8 L192.0 539.1 L193.0 538.2 L194.0 539.5 L195.0 540.5 L196.0 541.9 L197.0 543.0 L198.0 544.1 L199.0 543.7 L200.0 543.4 L201.0 543.0 L202.0 544.3 L203.0 545.7 L204.0 547.4 L205.0 549.0 L206.0 548.7 L207.0 548.3 L208.0 548.1 L209.0 547.8 L210.0 549.1 L211.0 550.4 L212.0 551.6 L213.0 553.1 L214.0 554.1 L215.0 553.7 L216.0 553.1 L217.0 552.7 L218.0 553.4 L219.0 554.7 L220.0 555.7 L221.0 557.3 L222.0 558.4 L223.0 559.4 L224.0 558.3 L225.0 557.4 L226.0 558.1 L227.0 559.3 L228.0 560.8 L229.0 562.4 L230.0 563.5 L231.0 563.1 L232.0 562.8 L233.0 562.2 L234.0 563.0 L235.0 564.3 L236.0 565.5 L237.0 566.6 L238.0 567.5 L239.0 568.4 L240.0 567.9 L241.0 567.5 L242.0 567.5 L243.0 568.6 L244.0 569.9 L245.0 571.3 L246.0 572.9 L247.0 572.8 L248.0 572.2 L249.0 571.9 L250.0 573.4 L251.0 574.5 L252.0 575.3 L253.0 576.8 L254.0 577.5 L255.0 577.7 L256.0 577.7 L257.0 576.6 L258.0 578.0 L259.0 579.7 L260.0 581.6 L261.0 582.9 L262.0 584.0 L263.0 583.3 L264.0 582.8 L265.0 583.5 L266.0 584.6 L267.0 586.0 L268.0 587.3 L269.0 588.8 L270.0 589.2 L271.0 588.9 L272.0 588.4 L273.0 588.7 L274.0 590.1 L275.0 591.5 L276.0 592.9 L277.0 594.2 L278.0 593.8 L279.0 593.0 L280.0 592.6 L281.0 594.1 L282.0 595.1 L283.0 596.2 L284.0 596.9 L285.0 597.6 L286.0 597.3 L287.0 597.4 L288.0 596.3 L289.0 597.4 L290.0 598.3 L291.0 599.6 L292.0 600.6 L293.0 601.7 L294.0 602.7 L295.0 602.5 L296.0 601.6 L297.0 600.8 L298.0 602.6 L299.0 603.4 L300.0 604.2 L301.0 604.9 L302.0 606.2 L303.0 607.2 L304.0 607.2 L305.0 606.7 L306.0 606.6 L307.0 607.8 L308.0 608.9 L309.0 610.2 L310.0 611.3 L311.0 612.6 L312.0 613.0 L313.0 612.8 L314.0 612.2 L315.0 613.4 L316.0 614.5 L317.0 615.7 L318.0 616.6 L319.0 617.0 L320.0 616.6 L321.0 616.3 L322.0 616.0 L323.0 617.6 L324.0 618.7 L325.0 620.0 L326.0 621.2 L327.0 622.2 L328.0 621.7 L329.0 620.7 L330.0 620.2 L331.0 620.7 L332.0 622.2 L333.0 623.1 L334.0 624.3 L335.0 624.6 L336.0 624.0 L337.0 623.5 L338.0 623.1 L339.0 624.4 L340.0 625.1 L341.0 625.6 L342.0 626.1 L343.0 626.3 L344.0 626.1 L345.0 625.7 L346.0 625.7 L347.0 626.0 L348.0 626.5 L349.0 627.0 L350.0 627.5 L351.0 627.9 L352.0 628.5 L353.0 628.7 L354.0 628.1 L355.0 627.4 L356.0 627.3 L357.0 627.8 L358.0 628.2 L359.0 628.7 L360.0 629.2 L361.0 629.3 L362.0 629.0 L363.0 628.7 L364.0 628.6 L365.0 628.5 L366.0 629.3 L367.0 629.6 L368.0 630.0 L369.0 630.2 L370.0 630.3 L371.0 629.8 L372.0 629.5 L373.0 629.4 L374.0 629.3 L375.0 629.1 L376.0 629.3 L377.0 629.7 L378.0 630.1 L379.0 630.6 L380.0 630.0 L381.0 629.1 L382.0 627.9 L383.0 627.4 L384.0 627.7 L385.0 628.2 L386.0 628.7 L387.0 629.1 L388.0 628.7 L389.0 627.4 L390.0 626.2 L391.0 624.9 L392.0 624.7 L393.0 625.4 L394.0 626.0 L395.0 626.5 L396.0 626.7 L397.0 625.3 L398.0 623.8 L399.0 622.5 L400.0 622.6 L401.0 622.8 L402.0 622.4 L403.0 622.3 L404.0 622.2 L405.0 621.9 L406.0 620.7 L407.0 619.5 L408.0 618.4 L409.0 617.4 L410.0 618.1 L411.0 618.2 L412.0 618.2 L413.0 617.4 L414.0 615.7 L415.0 614.5 L416.0 612.7 L417.0 613.0 L418.0 612.3 L419.0 612.3 L420.0 612.3 L421.0 611.2 L422.0 609.6 L423.0 607.7 L424.0 606.9 L425.0 606.7 L426.0 606.4 L427.0 605.9 L428.0 605.5 L429.0 604.6 L430.0 603.1 L431.0 601.1 L432.0 600.3 L433.0 599.8 L434.0 599.5 L435.0 599.1 L436.0 598.5 L437.0 597.6 L438.0 595.7 L439.0 594.3 L440.0 592.7 L441.0 591.9 L442.0 591.6 L443.0 591.4 L444.0 590.6 L445.0 590.4 L446.0 590.3 L447.0 588.6 L448.0 586.4 L449.0 584.1 L450.0 582.4 L451.0 581.6 L452.0 581.9 L453.0 581.2 L454.0 581.1 L455.0 580.6 L456.0 578.3 L457.0 575.1 L458.0 574.2 L459.0 573.3 L460.0 572.6 L461.0 571.7 L462.0 570.7 L463.0 569.6 L464.0 567.4 L465.0 565.4 L466.0 564.2 L467.0 563.5 L468.0 563.0 L469.0 562.5 L470.0 561.9 L471.0 559.7 L472.0 557.9 L473.0 555.8 L474.0 554.3 L475.0 553.3 L476.0 552.8 L477.0 552.0 L478.0 551.5 L479.0 550.5 L480.0 548.0 L481.0 545.6 L482.0 544.1 L483.0 543.8 L484.0 543.3 L485.0 542.4 L486.0 541.8 L487.0 541.3 L488.0 539.7 L489.0 537.6 L490.0 535.3 L491.0 533.0 L492.0 532.8 L493.0 531.9 L494.0 530.9 L495.0 530.0 L496.0 529.3 L497.0 528.5 L498.0 526.3 L499.0 524.3 L500.0 522.3 L501.0 521.1 L502.0 520.5 L503.0 519.6 L504.0 519.1 L505.0 518.0 L506.0 517.1 L507.0 515.0 L508.0 513.0 L509.0 510.9 L510.0 509.0 L511.0 508.3 L512.0 507.6 L513.0 507.2 L514.0 506.4 L515.0 504.4 L516.0 502.3 L517.0 500.5 L518.0 499.9 L519.0 499.4 L520.0 498.9 L521.0 498.5 L522.0 497.9 L523.0 496.9 L524.0 494.7 L525.0 493.1 L526.0 491.3 L527.0 491.1 L528.0 491.0 L529.0 490.9 L530.0 489.8 L531.0 487.4 L532.0 485.1 L533.0 483.3 L534.0 482.7 L535.0 482.1 L536.0 481.9 L537.0 480.8 L538.0 480.4 L539.0 478.5 L540.0 476.9 L541.0 475.0 L542.0 473.5 L543.0 472.8 L544.0 472.1 L545.0 471.4 L546.0 470.7 L547.0 469.0 L548.0 467.1 L549.0 465.1 L550.0 463.4 L551.0 462.6 L552.0 462.4 L553.0 461.8 L554.0 461.4 L555.0 461.3 L556.0 459.9 L557.0 458.0 L558.0 456.3 L559.0 454.5 L560.0 452.8 L561.0 452.5 L562.0 452.3 L563.0 451.7 L564.0 451.1 L565.0 450.5 L566.0 450.2 L567.0 447.8 L568.0 445.1 L569.0 443.7 L570.0 442.7 L571.0 441.9 L572.0 441.0 L573.0 440.2 L574.0 439.2 L575.0 438.1 L576.0 436.4 L577.0 434.3 L578.0 431.9 L579.0 430.0 L580.0 429.6 L581.0 429.4 L582.0 428.8 L583.0 428.5 L584.0 427.4 L585.0 425.3 L586.0 422.8 L587.0 420.8 L588.0 421.0 L589.0 421.5 L590.0 421.5 L591.0 420.8 L592.0 418.5 L593.0 416.0 L594.0 413.7 L595.0 413.5 L596.0 412.6 L597.0 412.2 L598.0 411.6 L599.0 411.1 L600.0 409.1 L601.0 406.8 L602.0 404.9 L603.0 402.6 L604.0 401.0 L605.0 400.5 L606.0 400.0 L607.0 399.9 L608.0 399.1 L609.0 396.9 L610.0 394.0 L611.0 391.3 L612.0 390.8 L613.0 390.7 L614.0 390.6 L615.0 389.9 L616.0 388.8 L617.0 386.0 L618.0 383.5 L619.0 381.1 L620.0 379.1 L621.0 378.1 L622.0 377.3 L623.0 376.7 L624.0 376.0 L625.0 375.1 L626.0 372.5 L627.0 369.9 L628.0 368.4 L629.0 367.1 L630.0 365.6 L631.0 364.4 L632.0 363.2 L633.0 362.6 L634.0 360.5 L635.0 358.4 L636.0 355.8 L637.0 354.1 L638.0 352.1 L639.0 351.1 L640.0 349.7 L641.0 348.6 L642.0 347.1 L643.0 344.4 L644.0 341.8 L645.0 338.9 L646.0 336.9 L647.0 335.4 L648.0 333.8 L649.0 332.4 L650.0 330.5 L651.0 329.1 L652.0 327.3 L653.0 324.8 L654.0 322.0 L655.0 319.0 L656.0 318.2 L657.0 317.3 L658.0 316.7 L659.0 315.9 L660.0 315.3 L661.0 312.5 L662.0 310.0 L663.0 307.2 L664.0 304.7 L665.0 303.1 L666.0 302.8 L667.0 302.1 L668.0 301.7 L669.0 298.3 L670.0 295.0 L671.0 292.3 L672.0 290.6 L673.0 289.5 L674.0 287.9 L675.0 286.8 L676.0 285.9 L677.0 284.0 L678.0 281.3 L679.0 278.3 L680.0 275.6 L681.0 273.7 L682.0 272.2 L683.0 270.5 L684.0 269.0 L685.0 267.3 L686.0 265.8 L687.0 263.3 L688.0 260.3 L689.0 257.3 L690.0 254.9 L691.0 253.0 L692.0 251.5 L693.0 250.2 L694.0 249.1 L695.0 248.5 L696.0 246.1 L697.0 243.3 L698.0 240.6 L699.0 237.8 L700.0 236.6 L701.0 235.2 L702.0 233.8 L703.0 232.9 L704.0 232.0 L705.0 231.1 L706.0 229.6 L707.0 227.1 L708.0 224.6 L709.0 221.8 L710.0 221.4 L711.0 220.9 L712.0 220.7 L713.0 220.3 L714.0 219.4 L715.0 216.3 L716.0 213.2 L717.0 211.8 L718.0 211.3 L719.0 210.4 L720.0 209.7 L721.0 208.7 L722.0 207.1 L723.0 205.3 L724.0 203.4 L725.0 201.5 L726.0 199.3 L727.0 198.3 L728.0 197.6 L729.0 197.2 L730.0 196.7 L731.0 196.0 L732.0 194.0 L733.0 191.0 L734.0 188.4 L735.0 187.9 L736.0 186.8 L737.0 185.6 L738.0 184.9 L739.0 184.1 L740.0 183.3 L741.0 181.8 L742.0 179.8 L743.0 177.9 L744.0 176.9 L745.0 176.6 L746.0 176.5 L747.0 176.2 L748.0 175.9 L749.0 175.2 L750.0 173.6 L751.0 171.6 L752.0 170.6 L753.0 170.1 L754.0 170.2 L755.0 170.1 L756.0 170.3 L757.0 169.8 L758.0 168.8 L759.0 168.0 L760.0 167.0 L761.0 166.5 L762.0 166.5 L763.0 166.8 L764.0 166.9 L765.0 167.0 L766.0 167.1 L767.0 166.0 L768.0 164.9 L769.0 164.9 L770.0 165.3 L771.0 165.8 L772.0 166.3 L773.0 166.5 L774.0 165.9 L775.0 165.1 L776.0 164.6 L777.0 164.5 L778.0 165.0 L779.0 165.4 L780.0 165.9 L781.0 166.5 L782.0 166.4 L783.0 165.4 L784.0 164.6 L785.0 163.9 L786.0 164.8 L787.0 165.4 L788.0 166.2 L789.0 166.6 L790.0 167.5 L791.0 166.8 L792.0 166.3 L793.0 165.6 L794.0 165.1 L795.0 165.8 L796.0 166.6 L797.0 167.4 L798.0 168.3 L799.0 169.0 L800.0 168.4 L801.0 167.5 L802.0 167.7 L803.0 168.1 L804.0 168.6 L805.0 169.4 L806.0 170.4 L807.0 170.6 L808.0 170.7 L809.0 170.6 L810.0 170.6 L811.0 170.2 L812.0 171.0 L813.0 171.8 L814.0 172.7 L815.0 173.4 L816.0 173.7 L817.0 173.4 L818.0 173.0 L819.0 172.8 L820.0 173.5 L821.0 174.1 L822.0 175.2 L823.0 176.0 L824.0 177.3 L825.0 176.8 L826.0 175.9 L827.0 176.2 L828.0 177.5 L829.0 179.1 L830.0 180.2 L831.0 180.3 L832.0 180.0 L833.0 179.8 L834.0 179.6 L835.0 180.7 L836.0 181.5 L837.0 182.4 L838.0 183.5 L839.0 184.6 L840.0 184.7 L841.0 184.1 L842.0 183.5 L843.0 185.1 L844.0 186.7 L845.0 188.4 L846.0 189.4 L847.0 188.8 L848.0 188.2 L849.0 187.6 L850.0 188.2 L851.0 189.3 L852.0 190.5 L853.0 191.5 L854.0 192.6 L855.0 193.3 L856.0 194.3 L857.0 193.9 L858.0 193.2 L859.0 192.6 L860.0 193.4 L861.0 194.7 L862.0 195.5 L863.0 196.4 L864.0 197.1 L865.0 197.8 L866.0 197.4 L867.0 197.0 L868.0 196.7 L869.0 197.5 L870.0 198.5 L871.0 199.2 L872.0 200.3 L873.0 201.4 L874.0 201.6 L875.0 200.8 L876.0 200.1 L877.0 200.9 L878.0 202.1 L879.0 203.3 L880.0 204.3 L881.0 205.1 L882.0 205.1 L883.0 205.2 L884.0 204.9 L885.0 204.7 L886.0 205.3 L887.0 206.0 L888.0 206.8 L889.0 207.6 L890.0 208.4 L891.0 209.0 L892.0 209.8 L893.0 209.7 L894.0 209.7 L895.0 209.7 L896.0 210.5 L897.0 211.3 L898.0 212.4 L899.0 213.7 L900.0 214.7 L901.0 214.9 L902.0 214.7 L903.0 214.7 L904.0 215.0 L905.0 216.1 L906.0 217.3 L907.0 218.3 L908.0 219.4 L909.0 220.3 L910.0 220.4 L911.0 220.2 L912.0 220.3 L913.0 221.1 L914.0 222.8 L915.0 224.2 L916.0 225.5 L917.0 225.9 L918.0 225.6 L919.0 225.4 L920.0 225.9 L921.0 226.9 L922.0 228.3 L923.0 229.3 L924.0 230.6 L925.0 230.5 L926.0 230.3 L927.0 230.0 L928.0 230.8 L929.0 232.1 L930.0 233.3 L931.0 234.4 L932.0 234.5 L933.0 234.8 L934.0 234.6 L935.0 234.5 L936.0 235.5 L937.0 236.7 L938.0 237.5 L939.0 238.3 L940.0 239.4 L941.0 239.6 L942.0 239.7 L943.0 239.6 L944.0 239.4 L945.0 240.8 L946.0 241.7 L947.0 242.4 L948.0 243.1 L949.0 244.1 L950.0 245.1 L951.0 245.5 L952.0 245.6 L953.0 245.6 L954.0 246.0 L955.0 247.0 L956.0 248.3 L957.0 249.5 L958.0 250.7 L959.0 251.0 L960.0 250.5 L961.0 250.0 L962.0 249.6 L963.0 250.8 L964.0 251.7 L965.0 252.7 L966.0 253.6 L967.0 254.6 L968.0 254.7 L969.0 254.6 L970.0 254.5 L971.0 255.3 L972.0 256.0 L973.0 256.8 L974.0 257.8 L975.0 258.7 L976.0 258.7 L977.0 258.5 L978.0 258.5 L979.0 258.1 L980.0 259.4 L981.0 260.5 L982.0 261.3 L983.0 262.4 L984.0 263.2 L985.0 263.7 L986.0 262.8 L987.0 262.2 L988.0 262.9 L989.0 264.5 L990.0 265.9 L991.0 267.1 L992.0 268.0 L993.0 268.3 L994.0 267.9 L995.0 267.5 L996.0 266.9 L997.0 267.4 L998.0 268.5 L999.0 269.7 L1000.0 271.3 L1001.0 272.7 L1002.0 273.1 L1003.0 271.9 L1004.0 270.9 L1005.0 272.5 L1006.0 273.7 L1007.0 274.4 L1008.0 275.2 L1009.0 275.7 L1010.0 277.0 L1011.0 276.7 L1012.0 276.9 L1013.0 276.7 L1014.0 276.5 L1015.0 277.7 L1016.0 278.6 L1017.0 279.9 L1018.0 280.9 L1019.0 282.1 L1020.0 281.9 L1021.0 281.4 L1022.0 280.8 L1023.0 281.5 L1024.0 282.4 L1025.0 283.4 L1026.0 284.5 L1027.0 285.9 L1028.0 286.0 L1029.0 285.9 L1030.0 285.3 L1031.0 284.6 L1032.0 285.3 L1033.0 286.4 L1034.0 287.6 L1035.0 288.8 L1036.0 289.4 L1037.0 289.5 L1038.0 288.9 L1039.0 288.5 L1040.0 289.8 L1041.0 290.7 L1042.0 291.4 L1043.0 292.2 L1044.0 292.2 L1045.0 292.4 L1046.0 292.3 L1047.0 292.0 L1048.0 292.8 L1049.0 293.8 L1050.0 294.6 L1051.0 295.5 L1052.0 295.7 L1053.0 295.5 L1054.0 295.1 L1055.0 295.4 L1056.0 295.8 L1057.0 296.7 L1058.0 297.5 L1059.0 298.4 L1060.0 299.2 L1061.0 299.1 L1062.0 299.0 L1063.0 298.7 L1064.0 298.5 L1065.0 299.2 L1066.0 300.0 L1067.0 300.8 L1068.0 301.6 L1069.0 302.3 L1070.0 302.4 L1071.0 301.9 L1072.0 301.6 L1073.0 302.3 L1074.0 303.0 L1075.0 303.9 L1076.0 304.4 L1077.0 305.1 L1078.0 305.4 L1079.0 305.2 L1080.0 304.6 L1081.0 304.1"/>
<path stroke="#5e0068" stroke-width="3.3" d="M116.0 496.8 L117.0 496.8 L118.0 496.6 L119.0 496.3 L120.0 495.9 L121.0 495.6 L122.0 495.6 L123.0 495.9 L124.0 496.1 L125.0 496.4 L126.0 496.5 L127.0 496.3 L128.0 496.0 L129.0 495.7 L130.0 495.8 L131.0 496.0 L132.0 496.2 L133.0 496.3 L134.0 496.4 L135.0 496.2 L136.0 496.0 L137.0 496.0 L138.0 496.1 L139.0 496.4 L140.0 496.7 L141.0 497.1 L142.0 497.6 L143.0 498.2 L144.0 498.6 L145.0 498.8 L146.0 499.0 L147.0 499.2 L148.0 500.0 L149.0 500.9 L150.0 501.9 L151.0 502.7 L152.0 502.9 L153.0 503.2 L154.0 503.5 L155.0 504.3 L156.0 505.0 L157.0 505.8 L158.0 506.5 L159.0 507.2 L160.0 507.8 L161.0 508.3 L162.0 508.5 L163.0 508.8 L164.0 509.1 L165.0 509.9 L166.0 510.6 L167.0 511.5 L168.0 512.3 L169.0 513.0 L170.0 513.2 L171.0 513.6 L172.0 513.9 L173.0 514.0 L174.0 514.9 L175.0 515.7 L176.0 516.5 L177.0 517.3 L178.0 518.0 L179.0 518.6 L180.0 518.7 L181.0 518.9 L182.0 519.5 L183.0 520.4 L184.0 521.2 L185.0 522.0 L186.0 522.8 L187.0 523.2 L188.0 523.3 L189.0 523.4 L190.0 524.2 L191.0 524.9 L192.0 525.5 L193.0 526.1 L194.0 526.9 L195.0 527.5 L196.0 527.7 L197.0 527.8 L198.0 528.4 L199.0 529.3 L200.0 530.2 L201.0 531.0 L202.0 531.1 L203.0 531.3 L204.0 531.4 L205.0 531.7 L206.0 532.5 L207.0 533.3 L208.0 534.2 L209.0 534.9 L210.0 535.7 L211.0 535.9 L212.0 536.0 L213.0 536.2 L214.0 536.7 L215.0 537.5 L216.0 538.3 L217.0 539.1 L218.0 539.8 L219.0 540.5 L220.0 540.7 L221.0 541.0 L222.0 541.3 L223.0 541.7 L224.0 542.2 L225.0 543.2 L226.0 544.0 L227.0 544.9 L228.0 545.6 L229.0 546.0 L230.0 546.2 L231.0 546.5 L232.0 546.9 L233.0 547.6 L234.0 548.4 L235.0 549.2 L236.0 550.0 L237.0 550.8 L238.0 551.0 L239.0 551.2 L240.0 551.8 L241.0 552.5 L242.0 553.3 L243.0 554.1 L244.0 555.1 L245.0 555.8 L246.0 556.0 L247.0 556.1 L248.0 556.9 L249.0 557.8 L250.0 558.6 L251.0 559.3 L252.0 560.2 L253.0 561.0 L254.0 561.5 L255.0 562.0 L256.0 562.5 L257.0 563.0 L258.0 563.8 L259.0 564.7 L260.0 565.6 L261.0 566.5 L262.0 567.3 L263.0 568.0 L264.0 568.3 L265.0 568.9 L266.0 569.8 L267.0 570.8 L268.0 571.7 L269.0 572.6 L270.0 573.5 L271.0 573.9 L272.0 574.4 L273.0 574.7 L274.0 575.7 L275.0 576.8 L276.0 577.8 L277.0 578.9 L278.0 579.9 L279.0 580.5 L280.0 580.8 L281.0 581.2 L282.0 582.2 L283.0 583.4 L284.0 584.5 L285.0 585.5 L286.0 586.4 L287.0 587.2 L288.0 587.8 L289.0 588.3 L290.0 589.0 L291.0 589.9 L292.0 591.0 L293.0 592.0 L294.0 593.1 L295.0 594.1 L296.0 594.7 L297.0 595.3 L298.0 595.7 L299.0 596.9 L300.0 598.0 L301.0 599.2 L302.0 600.4 L303.0 601.0 L304.0 601.2 L305.0 601.6 L306.0 602.0 L307.0 603.1 L308.0 604.1 L309.0 605.1 L310.0 606.1 L311.0 607.0 L312.0 607.7 L313.0 608.1 L314.0 608.6 L315.0 609.1 L316.0 610.1 L317.0 611.2 L318.0 612.3 L319.0 613.4 L320.0 613.9 L321.0 614.3 L322.0 614.7 L323.0 615.1 L324.0 616.2 L325.0 617.3 L326.0 618.2 L327.0 619.3 L328.0 619.9 L329.0 620.5 L330.0 620.9 L331.0 621.4 L332.0 622.1 L333.0 623.1 L334.0 624.0 L335.0 625.0 L336.0 625.8 L337.0 626.2 L338.0 626.6 L339.0 627.1 L340.0 627.6 L341.0 628.4 L342.0 629.1 L343.0 629.7 L344.0 630.3 L345.0 631.0 L346.0 631.7 L347.0 632.4 L348.0 632.8 L349.0 633.3 L350.0 633.6 L351.0 634.1 L352.0 634.6 L353.0 635.4 L354.0 636.0 L355.0 636.8 L356.0 637.2 L357.0 637.5 L358.0 637.8 L359.0 637.9 L360.0 638.7 L361.0 639.2 L362.0 639.9 L363.0 640.5 L364.0 641.2 L365.0 641.6 L366.0 641.8 L367.0 641.9 L368.0 642.4 L369.0 642.9 L370.0 643.5 L371.0 644.1 L372.0 644.9 L373.0 645.4 L374.0 645.5 L375.0 645.6 L376.0 645.7 L377.0 645.8 L378.0 646.4 L379.0 647.0 L380.0 647.6 L381.0 648.2 L382.0 648.8 L383.0 649.0 L384.0 648.9 L385.0 648.9 L386.0 649.3 L387.0 649.9 L388.0 650.5 L389.0 651.0 L390.0 651.6 L391.0 651.9 L392.0 651.7 L393.0 651.7 L394.0 652.2 L395.0 652.8 L396.0 653.3 L397.0 653.7 L398.0 653.8 L399.0 653.9 L400.0 653.9 L401.0 653.9 L402.0 654.3 L403.0 654.7 L404.0 655.1 L405.0 655.3 L406.0 655.6 L407.0 655.6 L408.0 655.6 L409.0 655.6 L410.0 655.5 L411.0 655.6 L412.0 655.9 L413.0 656.1 L414.0 656.2 L415.0 656.0 L416.0 655.8 L417.0 655.7 L418.0 655.6 L419.0 655.4 L420.0 655.5 L421.0 655.6 L422.0 655.7 L423.0 655.7 L424.0 655.8 L425.0 655.7 L426.0 655.2 L427.0 654.6 L428.0 654.6 L429.0 654.5 L430.0 654.4 L431.0 654.4 L432.0 654.4 L433.0 654.2 L434.0 653.5 L435.0 652.8 L436.0 652.4 L437.0 652.2 L438.0 651.9 L439.0 651.6 L440.0 651.3 L441.0 650.8 L442.0 650.1 L443.0 649.4 L444.0 648.7 L445.0 648.0 L446.0 647.7 L447.0 647.5 L448.0 647.2 L449.0 646.8 L450.0 646.2 L451.0 645.5 L452.0 644.7 L453.0 643.7 L454.0 642.6 L455.0 642.0 L456.0 641.7 L457.0 641.4 L458.0 641.1 L459.0 640.4 L460.0 639.0 L461.0 637.9 L462.0 636.9 L463.0 636.3 L464.0 635.6 L465.0 635.0 L466.0 634.1 L467.0 633.2 L468.0 632.1 L469.0 630.8 L470.0 629.6 L471.0 628.7 L472.0 627.9 L473.0 627.0 L474.0 626.1 L475.0 625.1 L476.0 624.1 L477.0 622.8 L478.0 621.4 L479.0 619.8 L480.0 618.9 L481.0 617.9 L482.0 617.0 L483.0 616.1 L484.0 615.0 L485.0 613.2 L486.0 611.7 L487.0 610.0 L488.0 608.8 L489.0 607.8 L490.0 606.9 L491.0 606.0 L492.0 605.1 L493.0 603.3 L494.0 601.4 L495.0 599.4 L496.0 598.2 L497.0 597.1 L498.0 596.0 L499.0 595.0 L500.0 594.1 L501.0 592.4 L502.0 590.5 L503.0 588.2 L504.0 586.9 L505.0 585.5 L506.0 584.3 L507.0 583.0 L508.0 581.8 L509.0 580.4 L510.0 578.7 L511.0 576.3 L512.0 573.7 L513.0 571.5 L514.0 570.0 L515.0 568.4 L516.0 566.9 L517.0 565.3 L518.0 562.9 L519.0 560.1 L520.0 557.5 L521.0 555.2 L522.0 553.7 L523.0 552.0 L524.0 550.8 L525.0 548.7 L526.0 546.3 L527.0 543.8 L528.0 541.6 L529.0 539.6 L530.0 537.8 L531.0 536.0 L532.0 534.3 L533.0 532.5 L534.0 530.7 L535.0 528.3 L536.0 525.8 L537.0 523.2 L538.0 521.6 L539.0 519.9 L540.0 518.1 L541.0 516.4 L542.0 514.3 L543.0 512.1 L544.0 509.7 L545.0 507.4 L546.0 505.4 L547.0 503.5 L548.0 501.7 L549.0 500.0 L550.0 498.2 L551.0 496.7 L552.0 495.0 L553.0 492.4 L554.0 489.5 L555.0 486.9 L556.0 485.3 L557.0 483.7 L558.0 481.8 L559.0 480.1 L560.0 478.4 L561.0 476.2 L562.0 473.6 L563.0 470.9 L564.0 468.3 L565.0 465.6 L566.0 464.0 L567.0 462.3 L568.0 460.5 L569.0 458.7 L570.0 457.1 L571.0 455.1 L572.0 452.4 L573.0 449.4 L574.0 447.5 L575.0 446.0 L576.0 444.5 L577.0 443.1 L578.0 441.6 L579.0 439.5 L580.0 437.1 L581.0 434.5 L582.0 431.8 L583.0 429.9 L584.0 428.0 L585.0 425.8 L586.0 424.0 L587.0 421.8 L588.0 419.6 L589.0 416.4 L590.0 413.4 L591.0 410.0 L592.0 407.9 L593.0 405.9 L594.0 403.9 L595.0 401.9 L596.0 399.5 L597.0 396.3 L598.0 393.3 L599.0 390.9 L600.0 388.9 L601.0 387.1 L602.0 385.3 L603.0 383.7 L604.0 381.8 L605.0 379.4 L606.0 376.5 L607.0 373.8 L608.0 371.4 L609.0 369.6 L610.0 368.0 L611.0 366.4 L612.0 364.7 L613.0 362.6 L614.0 360.3 L615.0 357.8 L616.0 355.6 L617.0 353.5 L618.0 351.7 L619.0 349.8 L620.0 347.9 L621.0 346.2 L622.0 344.2 L623.0 341.7 L624.0 339.0 L625.0 336.1 L626.0 334.3 L627.0 332.6 L628.0 330.4 L629.0 328.6 L630.0 326.9 L631.0 324.2 L632.0 321.3 L633.0 318.0 L634.0 316.0 L635.0 314.3 L636.0 312.7 L637.0 311.1 L638.0 309.5 L639.0 306.8 L640.0 304.0 L641.0 301.3 L642.0 299.2 L643.0 297.3 L644.0 295.4 L645.0 293.5 L646.0 291.9 L647.0 290.5 L648.0 288.5 L649.0 286.1 L650.0 283.6 L651.0 281.7 L652.0 280.4 L653.0 279.0 L654.0 277.7 L655.0 276.1 L656.0 274.4 L657.0 272.1 L658.0 269.7 L659.0 267.1 L660.0 265.7 L661.0 263.9 L662.0 262.3 L663.0 260.6 L664.0 258.6 L665.0 256.3 L666.0 253.9 L667.0 251.6 L668.0 250.0 L669.0 248.3 L670.0 246.7 L671.0 244.9 L672.0 243.1 L673.0 241.2 L674.0 238.8 L675.0 236.5 L676.0 234.7 L677.0 233.3 L678.0 231.8 L679.0 230.5 L680.0 228.5 L681.0 226.4 L682.0 224.4 L683.0 222.3 L684.0 221.1 L685.0 219.6 L686.0 218.3 L687.0 216.9 L688.0 214.8 L689.0 213.1 L690.0 211.1 L691.0 209.0 L692.0 207.6 L693.0 206.3 L694.0 205.2 L695.0 204.0 L696.0 202.2 L697.0 199.9 L698.0 197.8 L699.0 195.4 L700.0 194.0 L701.0 192.7 L702.0 191.3 L703.0 189.9 L704.0 188.4 L705.0 187.0 L706.0 185.5 L707.0 183.5 L708.0 181.9 L709.0 180.4 L710.0 179.3 L711.0 178.3 L712.0 177.2 L713.0 176.2 L714.0 174.5 L715.0 172.9 L716.0 171.5 L717.0 170.4 L718.0 169.5 L719.0 168.5 L720.0 167.5 L721.0 166.8 L722.0 166.3 L723.0 165.0 L724.0 163.7 L725.0 162.5 L726.0 161.5 L727.0 160.7 L728.0 160.2 L729.0 159.7 L730.0 159.3 L731.0 158.2 L732.0 157.3 L733.0 156.3 L734.0 155.7 L735.0 155.3 L736.0 155.1 L737.0 154.9 L738.0 154.6 L739.0 154.3 L740.0 153.5 L741.0 152.6 L742.0 152.4 L743.0 152.2 L744.0 152.2 L745.0 152.0 L746.0 151.7 L747.0 151.3 L748.0 151.0 L749.0 150.6 L750.0 150.4 L751.0 150.4 L752.0 150.4 L753.0 150.3 L754.0 150.3 L755.0 150.2 L756.0 149.8 L757.0 149.5 L758.0 149.4 L759.0 149.6 L760.0 149.8 L761.0 150.0 L762.0 150.3 L763.0 150.3 L764.0 150.1 L765.0 149.9 L766.0 150.1 L767.0 150.6 L768.0 151.0 L769.0 151.2 L770.0 151.7 L771.0 152.0 L772.0 152.1 L773.0 152.1 L774.0 152.2 L775.0 152.5 L776.0 153.0 L777.0 153.6 L778.0 154.2 L779.0 154.7 L780.0 154.6 L781.0 154.6 L782.0 154.5 L783.0 155.2 L784.0 155.8 L785.0 156.4 L786.0 156.8 L787.0 157.2 L788.0 157.8 L789.0 158.1 L790.0 158.3 L791.0 158.5 L792.0 159.1 L793.0 159.7 L794.0 160.3 L795.0 160.9 L796.0 161.7 L797.0 162.0 L798.0 162.4 L799.0 162.7 L800.0 163.1 L801.0 163.9 L802.0 164.7 L803.0 165.4 L804.0 166.0 L805.0 166.1 L806.0 166.2 L807.0 166.4 L808.0 166.8 L809.0 167.5 L810.0 168.0 L811.0 168.6 L812.0 169.3 L813.0 169.9 L814.0 170.5 L815.0 170.7 L816.0 170.9 L817.0 171.1 L818.0 171.4 L819.0 172.3 L820.0 173.1 L821.0 174.0 L822.0 174.8 L823.0 175.6 L824.0 176.0 L825.0 176.1 L826.0 176.4 L827.0 177.0 L828.0 177.9 L829.0 178.8 L830.0 179.7 L831.0 180.6 L832.0 181.4 L833.0 181.5 L834.0 181.6 L835.0 182.3 L836.0 183.2 L837.0 184.0 L838.0 184.9 L839.0 185.7 L840.0 186.6 L841.0 187.2 L842.0 187.4 L843.0 187.7 L844.0 188.1 L845.0 188.9 L846.0 189.7 L847.0 190.5 L848.0 191.3 L849.0 192.3 L850.0 192.8 L851.0 193.2 L852.0 193.4 L853.0 193.8 L854.0 194.3 L855.0 195.1 L856.0 195.9 L857.0 196.8 L858.0 197.8 L859.0 198.8 L860.0 199.7 L861.0 199.9 L862.0 199.9 L863.0 200.0 L864.0 201.2 L865.0 201.9 L866.0 202.6 L867.0 203.4 L868.0 204.2 L869.0 204.9 L870.0 205.2 L871.0 205.6 L872.0 205.9 L873.0 206.2 L874.0 207.0 L875.0 207.9 L876.0 208.6 L877.0 209.4 L878.0 210.1 L879.0 210.4 L880.0 210.7 L881.0 211.1 L882.0 211.8 L883.0 212.8 L884.0 213.6 L885.0 214.4 L886.0 215.0 L887.0 215.3 L888.0 215.5 L889.0 215.8 L890.0 216.3 L891.0 217.1 L892.0 217.8 L893.0 218.6 L894.0 219.3 L895.0 220.0 L896.0 220.3 L897.0 220.6 L898.0 220.9 L899.0 221.6 L900.0 222.3 L901.0 223.0 L902.0 223.7 L903.0 224.5 L904.0 225.0 L905.0 225.2 L906.0 225.5 L907.0 225.8 L908.0 226.1 L909.0 226.9 L910.0 227.6 L911.0 228.4 L912.0 229.1 L913.0 229.4 L914.0 229.4 L915.0 229.6 L916.0 230.0 L917.0 230.8 L918.0 231.5 L919.0 232.3 L920.0 233.0 L921.0 233.6 L922.0 233.8 L923.0 234.0 L924.0 234.3 L925.0 235.1 L926.0 236.0 L927.0 236.7 L928.0 237.5 L929.0 238.3 L930.0 238.8 L931.0 239.2 L932.0 239.7 L933.0 240.2 L934.0 240.6 L935.0 241.6 L936.0 242.7 L937.0 243.7 L938.0 244.5 L939.0 245.1 L940.0 245.4 L941.0 245.7 L942.0 245.9 L943.0 246.3 L944.0 247.3 L945.0 248.2 L946.0 249.1 L947.0 249.9 L948.0 250.7 L949.0 251.1 L950.0 251.4 L951.0 251.8 L952.0 252.2 L953.0 252.8 L954.0 253.5 L955.0 254.3 L956.0 255.0 L957.0 255.7 L958.0 256.3 L959.0 256.6 L960.0 256.9 L961.0 257.1 L962.0 258.0 L963.0 258.8 L964.0 259.6 L965.0 260.1 L966.0 260.4 L967.0 260.6 L968.0 261.0 L969.0 261.3 L970.0 261.9 L971.0 262.5 L972.0 263.2 L973.0 263.9 L974.0 264.4 L975.0 265.1 L976.0 265.3 L977.0 265.4 L978.0 265.7 L979.0 266.1 L980.0 267.0 L981.0 267.8 L982.0 268.7 L983.0 269.5 L984.0 269.8 L985.0 269.7 L986.0 269.8 L987.0 270.2 L988.0 271.1 L989.0 271.9 L990.0 272.7 L991.0 273.5 L992.0 273.8 L993.0 273.9 L994.0 274.2 L995.0 274.7 L996.0 275.3 L997.0 276.0 L998.0 276.7 L999.0 277.4 L1000.0 278.2 L1001.0 278.4 L1002.0 278.8 L1003.0 279.0 L1004.0 279.4 L1005.0 279.8 L1006.0 280.7 L1007.0 281.6 L1008.0 282.4 L1009.0 283.3 L1010.0 283.5 L1011.0 283.7 L1012.0 283.9 L1013.0 284.2 L1014.0 285.0 L1015.0 285.7 L1016.0 286.5 L1017.0 287.1 L1018.0 287.9 L1019.0 288.3 L1020.0 288.3 L1021.0 288.2 L1022.0 289.0 L1023.0 289.7 L1024.0 290.5 L1025.0 291.2 L1026.0 291.7 L1027.0 291.7 L1028.0 291.7 L1029.0 292.0 L1030.0 292.8 L1031.0 293.5 L1032.0 294.3 L1033.0 294.8 L1034.0 295.5 L1035.0 296.2 L1036.0 296.3 L1037.0 296.3 L1038.0 296.5 L1039.0 297.1 L1040.0 297.7 L1041.0 298.3 L1042.0 298.9 L1043.0 299.5 L1044.0 299.8 L1045.0 300.1 L1046.0 300.3 L1047.0 300.4 L1048.0 300.9 L1049.0 301.5 L1050.0 302.1 L1051.0 302.7 L1052.0 303.3 L1053.0 303.5 L1054.0 303.6 L1055.0 303.9 L1056.0 304.0 L1057.0 304.5 L1058.0 305.0 L1059.0 305.6 L1060.0 306.2 L1061.0 306.8 L1062.0 307.2 L1063.0 307.3 L1064.0 307.4 L1065.0 307.6 L1066.0 308.0 L1067.0 308.5 L1068.0 308.9 L1069.0 309.5 L1070.0 310.0 L1071.0 310.5 L1072.0 310.8 L1073.0 310.8 L1074.0 310.9 L1075.0 311.2 L1076.0 311.7 L1077.0 312.1 L1078.0 312.5 L1079.0 312.9 L1080.0 313.3 L1081.0 313.4"/>
<path stroke="#aa4a9e" stroke-width="3.3" d="M116.0 493.8 L117.0 493.7 L118.0 493.6 L119.0 493.7 L120.0 493.8 L121.0 494.0 L122.0 494.0 L123.0 493.7 L124.0 493.5 L125.0 493.3 L126.0 493.6 L127.0 493.6 L128.0 493.7 L129.0 493.7 L130.0 493.8 L131.0 493.6 L132.0 493.5 L133.0 493.4 L134.0 493.4 L135.0 493.6 L136.0 493.8 L137.0 493.9 L138.0 494.1 L139.0 494.4 L140.0 494.7 L141.0 494.7 L142.0 494.8 L143.0 494.8 L144.0 495.5 L145.0 496.2 L146.0 497.0 L147.0 497.7 L148.0 498.5 L149.0 498.8 L150.0 499.2 L151.0 499.4 L152.0 499.7 L153.0 500.6 L154.0 501.4 L155.0 502.3 L156.0 503.1 L157.0 503.5 L158.0 503.8 L159.0 504.2 L160.0 504.6 L161.0 505.1 L162.0 505.8 L163.0 506.7 L164.0 507.5 L165.0 508.2 L166.0 508.4 L167.0 508.5 L168.0 508.9 L169.0 509.6 L170.0 510.4 L171.0 511.1 L172.0 511.8 L173.0 512.7 L174.0 513.3 L175.0 513.6 L176.0 513.8 L177.0 514.1 L178.0 514.8 L179.0 515.6 L180.0 516.4 L181.0 517.1 L182.0 517.8 L183.0 518.4 L184.0 518.8 L185.0 519.2 L186.0 519.6 L187.0 519.8 L188.0 520.5 L189.0 521.4 L190.0 522.2 L191.0 523.1 L192.0 523.4 L193.0 523.7 L194.0 523.9 L195.0 524.2 L196.0 524.9 L197.0 525.7 L198.0 526.5 L199.0 527.2 L200.0 527.7 L201.0 527.9 L202.0 528.1 L203.0 528.3 L204.0 528.9 L205.0 529.6 L206.0 530.4 L207.0 531.2 L208.0 531.9 L209.0 532.5 L210.0 532.8 L211.0 533.1 L212.0 533.3 L213.0 533.9 L214.0 534.7 L215.0 535.4 L216.0 536.2 L217.0 536.8 L218.0 537.2 L219.0 537.4 L220.0 537.6 L221.0 538.3 L222.0 539.0 L223.0 539.8 L224.0 540.4 L225.0 541.0 L226.0 541.4 L227.0 541.9 L228.0 542.3 L229.0 543.0 L230.0 543.5 L231.0 544.2 L232.0 544.8 L233.0 545.6 L234.0 546.3 L235.0 546.7 L236.0 547.1 L237.0 547.5 L238.0 548.2 L239.0 548.9 L240.0 549.6 L241.0 550.3 L242.0 550.9 L243.0 551.3 L244.0 551.7 L245.0 551.9 L246.0 552.9 L247.0 554.0 L248.0 555.0 L249.0 556.0 L250.0 556.7 L251.0 556.9 L252.0 557.1 L253.0 557.4 L254.0 558.3 L255.0 559.3 L256.0 560.2 L257.0 561.1 L258.0 562.2 L259.0 562.7 L260.0 563.1 L261.0 563.4 L262.0 564.2 L263.0 565.2 L264.0 566.2 L265.0 567.2 L266.0 568.4 L267.0 569.2 L268.0 569.6 L269.0 569.9 L270.0 570.3 L271.0 571.3 L272.0 572.3 L273.0 573.2 L274.0 574.1 L275.0 575.1 L276.0 575.8 L277.0 576.7 L278.0 577.1 L279.0 577.6 L280.0 578.7 L281.0 579.9 L282.0 580.9 L283.0 582.1 L284.0 582.7 L285.0 583.4 L286.0 583.8 L287.0 584.8 L288.0 585.7 L289.0 587.0 L290.0 588.1 L291.0 589.4 L292.0 590.0 L293.0 590.3 L294.0 590.7 L295.0 591.1 L296.0 592.4 L297.0 593.7 L298.0 594.8 L299.0 595.9 L300.0 597.0 L301.0 597.8 L302.0 598.1 L303.0 598.6 L304.0 599.5 L305.0 600.6 L306.0 601.6 L307.0 602.6 L308.0 603.6 L309.0 604.7 L310.0 605.2 L311.0 605.8 L312.0 606.4 L313.0 607.1 L314.0 607.7 L315.0 608.8 L316.0 609.9 L317.0 611.0 L318.0 612.1 L319.0 612.3 L320.0 612.4 L321.0 613.1 L322.0 614.1 L323.0 615.2 L324.0 616.2 L325.0 617.2 L326.0 618.0 L327.0 618.4 L328.0 618.7 L329.0 619.3 L330.0 620.1 L331.0 620.9 L332.0 621.8 L333.0 622.6 L334.0 623.5 L335.0 624.0 L336.0 624.5 L337.0 625.1 L338.0 625.7 L339.0 626.5 L340.0 627.4 L341.0 628.4 L342.0 629.3 L343.0 630.2 L344.0 630.8 L345.0 631.2 L346.0 631.5 L347.0 632.4 L348.0 633.5 L349.0 634.5 L350.0 635.5 L351.0 636.5 L352.0 636.9 L353.0 637.3 L354.0 637.8 L355.0 638.8 L356.0 639.8 L357.0 640.7 L358.0 641.7 L359.0 642.5 L360.0 643.1 L361.0 643.8 L362.0 644.5 L363.0 645.2 L364.0 645.7 L365.0 646.6 L366.0 647.6 L367.0 648.7 L368.0 649.6 L369.0 650.4 L370.0 650.9 L371.0 651.3 L372.0 651.7 L373.0 652.7 L374.0 653.7 L375.0 655.0 L376.0 656.1 L377.0 656.7 L378.0 657.0 L379.0 657.5 L380.0 657.8 L381.0 658.8 L382.0 659.8 L383.0 660.9 L384.0 661.9 L385.0 663.0 L386.0 663.5 L387.0 663.8 L388.0 664.2 L389.0 664.7 L390.0 665.8 L391.0 666.8 L392.0 667.9 L393.0 669.0 L394.0 669.4 L395.0 669.6 L396.0 669.7 L397.0 670.5 L398.0 671.4 L399.0 672.2 L400.0 673.0 L401.0 673.8 L402.0 674.6 L403.0 675.4 L404.0 675.6 L405.0 675.7 L406.0 676.1 L407.0 676.8 L408.0 677.5 L409.0 678.1 L410.0 678.8 L411.0 679.4 L412.0 679.8 L413.0 680.1 L414.0 680.5 L415.0 680.9 L416.0 681.5 L417.0 682.0 L418.0 682.6 L419.0 683.2 L420.0 683.7 L421.0 684.1 L422.0 684.3 L423.0 684.6 L424.0 684.8 L425.0 685.4 L426.0 686.1 L427.0 686.8 L428.0 687.5 L429.0 687.7 L430.0 687.7 L431.0 687.7 L432.0 688.1 L433.0 688.7 L434.0 689.2 L435.0 689.6 L436.0 690.0 L437.0 690.0 L438.0 689.9 L439.0 689.8 L440.0 689.7 L441.0 690.0 L442.0 690.4 L443.0 690.6 L444.0 690.9 L445.0 691.1 L446.0 691.0 L447.0 690.9 L448.0 690.7 L449.0 690.6 L450.0 690.8 L451.0 690.9 L452.0 691.0 L453.0 691.1 L454.0 691.2 L455.0 690.6 L456.0 690.2 L457.0 689.8 L458.0 690.0 L459.0 690.0 L460.0 689.9 L461.0 689.8 L462.0 689.6 L463.0 689.4 L464.0 689.0 L465.0 688.5 L466.0 688.0 L467.0 687.8 L468.0 687.6 L469.0 687.4 L470.0 687.0 L471.0 686.7 L472.0 686.2 L473.0 685.4 L474.0 684.5 L475.0 684.1 L476.0 683.8 L477.0 683.3 L478.0 682.9 L479.0 682.3 L480.0 681.6 L481.0 680.5 L482.0 679.2 L483.0 678.3 L484.0 677.7 L485.0 677.1 L486.0 676.5 L487.0 675.6 L488.0 674.2 L489.0 672.6 L490.0 671.1 L491.0 669.8 L492.0 668.9 L493.0 668.0 L494.0 666.9 L495.0 665.7 L496.0 664.4 L497.0 662.8 L498.0 661.0 L499.0 659.2 L500.0 657.5 L501.0 656.1 L502.0 654.5 L503.0 653.0 L504.0 651.6 L505.0 649.8 L506.0 647.8 L507.0 645.5 L508.0 643.5 L509.0 641.0 L510.0 639.4 L511.0 637.7 L512.0 636.2 L513.0 634.5 L514.0 632.9 L515.0 630.8 L516.0 628.4 L517.0 625.7 L518.0 623.7 L519.0 621.8 L520.0 620.0 L521.0 618.1 L522.0 616.0 L523.0 613.9 L524.0 611.3 L525.0 609.1 L526.0 606.7 L527.0 604.2 L528.0 601.8 L529.0 599.9 L530.0 598.3 L531.0 596.5 L532.0 594.6 L533.0 592.5 L534.0 589.8 L535.0 586.7 L536.0 583.3 L537.0 580.8 L538.0 578.5 L539.0 576.0 L540.0 573.4 L541.0 570.8 L542.0 567.2 L543.0 563.1 L544.0 559.0 L545.0 554.8 L546.0 551.6 L547.0 549.3 L548.0 547.0 L549.0 544.4 L550.0 541.9 L551.0 538.5 L552.0 534.4 L553.0 530.5 L554.0 526.4 L555.0 522.2 L556.0 519.9 L557.0 517.2 L558.0 514.2 L559.0 510.6 L560.0 506.9 L561.0 502.9 L562.0 498.9 L563.0 494.9 L564.0 490.2 L565.0 487.0 L566.0 483.8 L567.0 480.6 L568.0 477.7 L569.0 474.9 L570.0 472.2 L571.0 467.6 L572.0 462.8 L573.0 459.3 L574.0 456.0 L575.0 453.0 L576.0 450.0 L577.0 447.2 L578.0 444.0 L579.0 440.1 L580.0 436.0 L581.0 432.9 L582.0 429.6 L583.0 426.9 L584.0 424.0 L585.0 421.1 L586.0 417.7 L587.0 413.9 L588.0 410.3 L589.0 406.7 L590.0 403.2 L591.0 400.5 L592.0 397.7 L593.0 395.1 L594.0 392.3 L595.0 388.7 L596.0 385.0 L597.0 381.3 L598.0 377.7 L599.0 374.1 L600.0 371.6 L601.0 368.8 L602.0 366.4 L603.0 363.7 L604.0 360.2 L605.0 355.6 L606.0 351.2 L607.0 348.9 L608.0 346.2 L609.0 343.7 L610.0 341.1 L611.0 337.9 L612.0 333.7 L613.0 329.6 L614.0 325.6 L615.0 322.3 L616.0 320.2 L617.0 317.9 L618.0 315.4 L619.0 312.8 L620.0 309.5 L621.0 305.5 L622.0 301.8 L623.0 297.9 L624.0 294.7 L625.0 292.3 L626.0 290.1 L627.0 287.5 L628.0 285.0 L629.0 282.2 L630.0 278.9 L631.0 275.6 L632.0 272.2 L633.0 269.6 L634.0 267.4 L635.0 265.2 L636.0 263.2 L637.0 261.1 L638.0 259.1 L639.0 256.6 L640.0 253.9 L641.0 251.1 L642.0 249.0 L643.0 246.9 L644.0 245.0 L645.0 243.1 L646.0 241.1 L647.0 238.9 L648.0 236.7 L649.0 234.5 L650.0 232.0 L651.0 229.6 L652.0 228.0 L653.0 226.3 L654.0 224.7 L655.0 222.8 L656.0 220.6 L657.0 217.8 L658.0 215.2 L659.0 212.7 L660.0 211.1 L661.0 209.3 L662.0 207.8 L663.0 206.0 L664.0 203.6 L665.0 200.8 L666.0 198.3 L667.0 196.4 L668.0 194.9 L669.0 193.3 L670.0 191.8 L671.0 189.9 L672.0 187.5 L673.0 185.0 L674.0 182.7 L675.0 180.9 L676.0 179.4 L677.0 177.9 L678.0 176.4 L679.0 175.0 L680.0 173.6 L681.0 171.4 L682.0 169.3 L683.0 167.2 L684.0 165.3 L685.0 164.1 L686.0 163.0 L687.0 162.0 L688.0 160.8 L689.0 158.8 L690.0 156.7 L691.0 154.9 L692.0 153.5 L693.0 152.5 L694.0 151.5 L695.0 150.4 L696.0 149.2 L697.0 148.1 L698.0 147.3 L699.0 146.4 L700.0 145.2 L701.0 144.0 L702.0 142.9 L703.0 142.4 L704.0 141.9 L705.0 141.4 L706.0 141.0 L707.0 140.4 L708.0 139.4 L709.0 138.3 L710.0 137.7 L711.0 137.4 L712.0 137.0 L713.0 136.5 L714.0 136.1 L715.0 135.8 L716.0 135.1 L717.0 134.6 L718.0 134.0 L719.0 133.5 L720.0 133.2 L721.0 133.0 L722.0 132.9 L723.0 132.8 L724.0 132.7 L725.0 132.5 L726.0 132.1 L727.0 131.7 L728.0 131.6 L729.0 131.7 L730.0 131.9 L731.0 132.1 L732.0 132.2 L733.0 131.9 L734.0 131.6 L735.0 131.4 L736.0 131.3 L737.0 131.5 L738.0 131.7 L739.0 131.8 L740.0 132.0 L741.0 132.0 L742.0 131.9 L743.0 131.8 L744.0 131.7 L745.0 132.0 L746.0 132.3 L747.0 132.6 L748.0 133.0 L749.0 133.3 L750.0 133.5 L751.0 133.5 L752.0 133.6 L753.0 133.6 L754.0 134.0 L755.0 134.6 L756.0 135.1 L757.0 135.6 L758.0 136.1 L759.0 136.4 L760.0 136.6 L761.0 136.8 L762.0 136.9 L763.0 137.5 L764.0 138.0 L765.0 138.7 L766.0 139.2 L767.0 139.7 L768.0 140.4 L769.0 140.8 L770.0 141.0 L771.0 140.8 L772.0 141.5 L773.0 142.3 L774.0 143.1 L775.0 143.7 L776.0 144.5 L777.0 144.5 L778.0 144.6 L779.0 145.1 L780.0 145.8 L781.0 146.4 L782.0 147.0 L783.0 147.7 L784.0 148.3 L785.0 148.6 L786.0 148.8 L787.0 149.1 L788.0 149.3 L789.0 150.1 L790.0 150.9 L791.0 151.7 L792.0 152.5 L793.0 153.5 L794.0 153.8 L795.0 154.1 L796.0 154.4 L797.0 154.5 L798.0 155.4 L799.0 156.1 L800.0 157.0 L801.0 157.9 L802.0 158.8 L803.0 159.5 L804.0 160.0 L805.0 160.3 L806.0 161.1 L807.0 161.9 L808.0 162.5 L809.0 163.3 L810.0 164.0 L811.0 165.0 L812.0 165.9 L813.0 166.3 L814.0 166.8 L815.0 167.3 L816.0 168.2 L817.0 169.2 L818.0 170.1 L819.0 171.1 L820.0 172.0 L821.0 172.7 L822.0 173.1 L823.0 173.6 L824.0 174.3 L825.0 175.4 L826.0 176.2 L827.0 177.1 L828.0 177.9 L829.0 178.5 L830.0 179.0 L831.0 179.4 L832.0 180.0 L833.0 180.4 L834.0 181.5 L835.0 182.4 L836.0 183.3 L837.0 184.3 L838.0 184.7 L839.0 185.0 L840.0 185.2 L841.0 186.0 L842.0 186.7 L843.0 187.6 L844.0 188.4 L845.0 189.1 L846.0 189.8 L847.0 190.4 L848.0 190.8 L849.0 191.2 L850.0 191.8 L851.0 192.6 L852.0 193.3 L853.0 193.9 L854.0 194.6 L855.0 195.3 L856.0 195.7 L857.0 196.1 L858.0 196.4 L859.0 197.2 L860.0 197.9 L861.0 198.7 L862.0 199.4 L863.0 199.9 L864.0 200.1 L865.0 200.4 L866.0 200.6 L867.0 201.4 L868.0 202.3 L869.0 203.2 L870.0 204.0 L871.0 204.8 L872.0 205.0 L873.0 205.3 L874.0 205.5 L875.0 205.8 L876.0 206.4 L877.0 207.2 L878.0 208.1 L879.0 209.0 L880.0 209.8 L881.0 210.3 L882.0 210.3 L883.0 210.4 L884.0 211.0 L885.0 211.9 L886.0 212.6 L887.0 213.4 L888.0 214.2 L889.0 215.1 L890.0 215.2 L891.0 215.2 L892.0 216.0 L893.0 216.7 L894.0 217.4 L895.0 218.1 L896.0 218.9 L897.0 219.6 L898.0 220.4 L899.0 220.8 L900.0 221.1 L901.0 221.3 L902.0 221.9 L903.0 222.7 L904.0 223.3 L905.0 224.0 L906.0 224.7 L907.0 225.3 L908.0 225.9 L909.0 226.1 L910.0 226.2 L911.0 226.5 L912.0 227.2 L913.0 228.1 L914.0 228.7 L915.0 229.5 L916.0 230.2 L917.0 230.3 L918.0 230.4 L919.0 230.5 L920.0 231.3 L921.0 232.1 L922.0 232.9 L923.0 233.7 L924.0 234.0 L925.0 234.4 L926.0 234.7 L927.0 235.1 L928.0 236.0 L929.0 236.9 L930.0 237.8 L931.0 238.8 L932.0 239.3 L933.0 239.5 L934.0 239.7 L935.0 240.6 L936.0 241.4 L937.0 242.0 L938.0 242.8 L939.0 243.6 L940.0 244.5 L941.0 245.2 L942.0 245.4 L943.0 245.8 L944.0 246.0 L945.0 247.0 L946.0 247.8 L947.0 248.8 L948.0 249.7 L949.0 250.2 L950.0 250.5 L951.0 250.7 L952.0 251.0 L953.0 251.6 L954.0 252.5 L955.0 253.2 L956.0 253.9 L957.0 254.6 L958.0 255.4 L959.0 255.8 L960.0 256.1 L961.0 256.4 L962.0 256.8 L963.0 257.3 L964.0 257.9 L965.0 258.6 L966.0 259.3 L967.0 259.9 L968.0 260.5 L969.0 261.1 L970.0 261.2 L971.0 261.3 L972.0 261.8 L973.0 262.5 L974.0 263.2 L975.0 264.0 L976.0 264.6 L977.0 264.8 L978.0 265.2 L979.0 265.5 L980.0 266.0 L981.0 266.2 L982.0 267.0 L983.0 267.7 L984.0 268.6 L985.0 269.4 L986.0 269.8 L987.0 269.9 L988.0 270.2 L989.0 270.6 L990.0 271.0 L991.0 271.7 L992.0 272.4 L993.0 273.1 L994.0 274.0 L995.0 274.5 L996.0 274.6 L997.0 274.7 L998.0 275.0 L999.0 275.6 L1000.0 276.6 L1001.0 277.4 L1002.0 278.3 L1003.0 278.9 L1004.0 279.1 L1005.0 279.2 L1006.0 279.6 L1007.0 280.2 L1008.0 280.9 L1009.0 281.7 L1010.0 282.5 L1011.0 282.9 L1012.0 283.3 L1013.0 283.6 L1014.0 283.9 L1015.0 284.5 L1016.0 285.1 L1017.0 285.8 L1018.0 286.4 L1019.0 287.1 L1020.0 287.5 L1021.0 287.8 L1022.0 288.0 L1023.0 288.4 L1024.0 289.1 L1025.0 289.8 L1026.0 290.5 L1027.0 291.1 L1028.0 291.7 L1029.0 291.9 L1030.0 292.0 L1031.0 292.0 L1032.0 292.8 L1033.0 293.5 L1034.0 294.1 L1035.0 294.8 L1036.0 295.4 L1037.0 296.2 L1038.0 296.1 L1039.0 296.0 L1040.0 296.4 L1041.0 297.0 L1042.0 297.7 L1043.0 298.2 L1044.0 298.9 L1045.0 299.4 L1046.0 299.6 L1047.0 299.6 L1048.0 299.6 L1049.0 300.2 L1050.0 300.8 L1051.0 301.5 L1052.0 302.0 L1053.0 302.6 L1054.0 303.0 L1055.0 303.1 L1056.0 303.0 L1057.0 303.6 L1058.0 304.2 L1059.0 304.9 L1060.0 305.4 L1061.0 305.7 L1062.0 305.7 L1063.0 305.9 L1064.0 306.3 L1065.0 306.8 L1066.0 307.4 L1067.0 307.8 L1068.0 308.2 L1069.0 308.7 L1070.0 308.7 L1071.0 308.9 L1072.0 309.0 L1073.0 309.4 L1074.0 310.0 L1075.0 310.7 L1076.0 311.2 L1077.0 311.8 L1078.0 311.9 L1079.0 311.8 L1080.0 311.8 L1081.0 311.8"/>
<path stroke="#000000" stroke-width="3.3" d="M116.0 498.5 L117.0 498.5 L118.0 498.5 L119.0 498.5 L120.0 498.4 L121.0 498.3 L122.0 498.2 L123.0 498.1 L124.0 498.1 L125.0 498.1 L126.0 498.1 L127.0 498.1 L128.0 498.1 L129.0 498.1 L130.0 498.0 L131.0 498.0 L132.0 498.0 L133.0 498.0 L134.0 498.0 L135.0 498.1 L136.0 498.2 L137.0 498.3 L138.0 498.3 L139.0 498.4 L140.0 498.7 L141.0 499.1 L142.0 499.4 L143.0 499.9 L144.0 500.4 L145.0 500.9 L146.0 501.3 L147.0 501.8 L148.0 502.3 L149.0 503.0 L150.0 503.7 L151.0 504.5 L152.0 505.2 L153.0 505.7 L154.0 506.3 L155.0 506.8 L156.0 507.4 L157.0 508.1 L158.0 508.8 L159.0 509.5 L160.0 510.2 L161.0 510.7 L162.0 511.1 L163.0 511.6 L164.0 512.0 L165.0 512.6 L166.0 513.2 L167.0 513.7 L168.0 514.4 L169.0 514.9 L170.0 515.6 L171.0 516.1 L172.0 516.5 L173.0 517.0 L174.0 517.6 L175.0 518.4 L176.0 519.0 L177.0 519.7 L178.0 520.3 L179.0 520.7 L180.0 521.2 L181.0 521.7 L182.0 522.1 L183.0 522.8 L184.0 523.4 L185.0 524.2 L186.0 524.9 L187.0 525.5 L188.0 525.8 L189.0 526.2 L190.0 526.8 L191.0 527.5 L192.0 528.2 L193.0 528.9 L194.0 529.6 L195.0 530.1 L196.0 530.5 L197.0 530.9 L198.0 531.3 L199.0 532.0 L200.0 532.5 L201.0 533.2 L202.0 533.9 L203.0 534.5 L204.0 535.1 L205.0 535.6 L206.0 536.1 L207.0 536.6 L208.0 537.1 L209.0 537.8 L210.0 538.4 L211.0 539.1 L212.0 539.7 L213.0 540.4 L214.0 540.9 L215.0 541.4 L216.0 541.9 L217.0 542.5 L218.0 543.2 L219.0 543.9 L220.0 544.7 L221.0 545.3 L222.0 545.8 L223.0 546.3 L224.0 546.9 L225.0 547.5 L226.0 548.2 L227.0 548.9 L228.0 549.7 L229.0 550.5 L230.0 551.3 L231.0 551.8 L232.0 552.3 L233.0 552.7 L234.0 553.3 L235.0 554.1 L236.0 554.9 L237.0 555.7 L238.0 556.5 L239.0 557.3 L240.0 557.9 L241.0 558.4 L242.0 559.0 L243.0 559.6 L244.0 560.4 L245.0 561.2 L246.0 562.0 L247.0 562.8 L248.0 563.7 L249.0 564.4 L250.0 564.9 L251.0 565.5 L252.0 566.5 L253.0 567.5 L254.0 568.4 L255.0 569.3 L256.0 570.0 L257.0 570.7 L258.0 571.5 L259.0 572.2 L260.0 573.2 L261.0 574.1 L262.0 575.1 L263.0 576.0 L264.0 576.9 L265.0 577.8 L266.0 578.5 L267.0 579.3 L268.0 580.0 L269.0 581.0 L270.0 581.9 L271.0 582.9 L272.0 583.8 L273.0 584.8 L274.0 585.7 L275.0 586.4 L276.0 587.1 L277.0 587.8 L278.0 588.8 L279.0 589.8 L280.0 590.8 L281.0 591.9 L282.0 592.9 L283.0 593.6 L284.0 594.3 L285.0 594.9 L286.0 595.6 L287.0 596.7 L288.0 597.6 L289.0 598.5 L290.0 599.4 L291.0 600.4 L292.0 601.4 L293.0 602.2 L294.0 602.9 L295.0 603.6 L296.0 604.2 L297.0 605.2 L298.0 606.2 L299.0 607.2 L300.0 608.2 L301.0 609.2 L302.0 610.1 L303.0 610.7 L304.0 611.4 L305.0 612.0 L306.0 613.1 L307.0 614.2 L308.0 615.2 L309.0 616.2 L310.0 617.2 L311.0 618.2 L312.0 619.0 L313.0 619.7 L314.0 620.3 L315.0 621.4 L316.0 622.4 L317.0 623.4 L318.0 624.4 L319.0 625.3 L320.0 626.1 L321.0 626.7 L322.0 627.5 L323.0 628.5 L324.0 629.6 L325.0 630.7 L326.0 631.6 L327.0 632.4 L328.0 633.2 L329.0 633.9 L330.0 634.7 L331.0 635.7 L332.0 636.7 L333.0 637.7 L334.0 638.8 L335.0 639.8 L336.0 640.4 L337.0 641.1 L338.0 641.8 L339.0 642.9 L340.0 643.9 L341.0 644.8 L342.0 645.9 L343.0 646.9 L344.0 647.9 L345.0 648.7 L346.0 649.3 L347.0 650.0 L348.0 651.0 L349.0 652.0 L350.0 653.0 L351.0 654.1 L352.0 655.0 L353.0 655.8 L354.0 656.6 L355.0 657.3 L356.0 658.0 L357.0 659.1 L358.0 660.1 L359.0 661.2 L360.0 662.2 L361.0 663.2 L362.0 664.1 L363.0 664.8 L364.0 665.3 L365.0 666.1 L366.0 667.1 L367.0 668.2 L368.0 669.2 L369.0 670.3 L370.0 671.3 L371.0 672.0 L372.0 672.6 L373.0 673.3 L374.0 674.4 L375.0 675.5 L376.0 676.7 L377.0 677.7 L378.0 678.4 L379.0 679.0 L380.0 679.7 L381.0 680.8 L382.0 681.7 L383.0 682.6 L384.0 683.7 L385.0 684.6 L386.0 685.7 L387.0 686.5 L388.0 687.3 L389.0 688.1 L390.0 688.9 L391.0 689.8 L392.0 690.9 L393.0 692.0 L394.0 693.1 L395.0 694.0 L396.0 694.7 L397.0 695.2 L398.0 695.9 L399.0 696.9 L400.0 697.9 L401.0 698.9 L402.0 699.9 L403.0 700.9 L404.0 701.8 L405.0 702.3 L406.0 702.9 L407.0 703.7 L408.0 704.7 L409.0 705.5 L410.0 706.5 L411.0 707.3 L412.0 708.1 L413.0 708.8 L414.0 709.4 L415.0 709.9 L416.0 710.8 L417.0 711.7 L418.0 712.6 L419.0 713.5 L420.0 714.3 L421.0 714.9 L422.0 715.4 L423.0 715.9 L424.0 716.6 L425.0 717.3 L426.0 718.0 L427.0 718.8 L428.0 719.5 L429.0 720.2 L430.0 720.7 L431.0 721.2 L432.0 721.7 L433.0 722.4 L434.0 723.0 L435.0 723.6 L436.0 724.1 L437.0 724.5 L438.0 724.9 L439.0 725.3 L440.0 725.7 L441.0 726.3 L442.0 726.9 L443.0 727.3 L444.0 727.9 L445.0 728.3 L446.0 728.5 L447.0 728.8 L448.0 728.9 L449.0 729.1 L450.0 729.4 L451.0 729.7 L452.0 729.9 L453.0 730.2 L454.0 730.4 L455.0 730.4 L456.0 730.4 L457.0 730.5 L458.0 730.6 L459.0 730.8 L460.0 730.9 L461.0 730.9 L462.0 731.0 L463.0 730.9 L464.0 730.7 L465.0 730.5 L466.0 730.3 L467.0 730.0 L468.0 729.9 L469.0 729.8 L470.0 729.6 L471.0 729.2 L472.0 728.7 L473.0 728.2 L474.0 727.6 L475.0 727.3 L476.0 726.9 L477.0 726.5 L478.0 726.1 L479.0 725.5 L480.0 724.6 L481.0 723.7 L482.0 722.9 L483.0 722.2 L484.0 721.5 L485.0 720.8 L486.0 720.1 L487.0 719.2 L488.0 718.2 L489.0 716.9 L490.0 715.5 L491.0 714.2 L492.0 713.1 L493.0 712.0 L494.0 710.8 L495.0 709.5 L496.0 708.1 L497.0 706.6 L498.0 705.0 L499.0 703.3 L500.0 701.5 L501.0 700.1 L502.0 698.6 L503.0 697.3 L504.0 696.0 L505.0 694.1 L506.0 691.9 L507.0 689.7 L508.0 687.8 L509.0 686.0 L510.0 684.3 L511.0 682.5 L512.0 680.7 L513.0 678.7 L514.0 676.8 L515.0 674.5 L516.0 672.1 L517.0 669.5 L518.0 667.2 L519.0 665.0 L520.0 662.8 L521.0 660.4 L522.0 658.2 L523.0 655.7 L524.0 652.9 L525.0 650.1 L526.0 647.6 L527.0 645.2 L528.0 642.7 L529.0 640.1 L530.0 637.5 L531.0 634.9 L532.0 631.7 L533.0 628.7 L534.0 625.6 L535.0 622.8 L536.0 619.9 L537.0 617.0 L538.0 614.1 L539.0 611.4 L540.0 608.5 L541.0 605.2 L542.0 601.7 L543.0 598.0 L544.0 595.6 L545.0 593.2 L546.0 590.5 L547.0 587.3 L548.0 583.1 L549.0 578.9 L550.0 574.4 L551.0 571.0 L552.0 567.5 L553.0 564.0 L554.0 560.6 L555.0 557.2 L556.0 553.1 L557.0 548.4 L558.0 543.8 L559.0 539.2 L560.0 534.7 L561.0 531.0 L562.0 527.5 L563.0 523.7 L564.0 520.0 L565.0 515.7 L566.0 510.9 L567.0 506.1 L568.0 500.8 L569.0 496.2 L570.0 492.1 L571.0 488.2 L572.0 484.3 L573.0 480.3 L574.0 475.8 L575.0 470.6 L576.0 465.5 L577.0 460.3 L578.0 456.1 L579.0 452.5 L580.0 448.8 L581.0 445.1 L582.0 441.5 L583.0 437.1 L584.0 432.6 L585.0 427.9 L586.0 424.3 L587.0 420.8 L588.0 417.2 L589.0 413.6 L590.0 409.6 L591.0 405.5 L592.0 400.3 L593.0 395.1 L594.0 389.9 L595.0 385.3 L596.0 381.1 L597.0 376.8 L598.0 372.7 L599.0 368.6 L600.0 364.0 L601.0 359.0 L602.0 354.0 L603.0 349.2 L604.0 345.4 L605.0 342.0 L606.0 338.5 L607.0 335.1 L608.0 331.0 L609.0 326.7 L610.0 322.4 L611.0 318.0 L612.0 314.6 L613.0 311.2 L614.0 308.1 L615.0 305.0 L616.0 301.8 L617.0 298.5 L618.0 294.9 L619.0 291.1 L620.0 287.5 L621.0 284.0 L622.0 281.1 L623.0 278.2 L624.0 275.3 L625.0 272.6 L626.0 269.5 L627.0 265.9 L628.0 262.3 L629.0 259.8 L630.0 257.1 L631.0 254.7 L632.0 252.1 L633.0 248.7 L634.0 245.2 L635.0 242.0 L636.0 239.1 L637.0 236.6 L638.0 233.9 L639.0 231.5 L640.0 228.8 L641.0 225.9 L642.0 222.8 L643.0 219.8 L644.0 217.0 L645.0 213.9 L646.0 211.8 L647.0 209.6 L648.0 207.5 L649.0 205.4 L650.0 202.7 L651.0 199.8 L652.0 196.6 L653.0 193.7 L654.0 191.8 L655.0 189.9 L656.0 187.7 L657.0 185.5 L658.0 183.2 L659.0 180.9 L660.0 178.4 L661.0 175.8 L662.0 173.8 L663.0 171.9 L664.0 170.1 L665.0 168.4 L666.0 166.0 L667.0 163.5 L668.0 161.2 L669.0 159.4 L670.0 157.9 L671.0 156.3 L672.0 154.8 L673.0 153.3 L674.0 151.9 L675.0 150.5 L676.0 148.6 L677.0 146.7 L678.0 145.3 L679.0 144.1 L680.0 143.0 L681.0 141.8 L682.0 140.7 L683.0 139.6 L684.0 138.3 L685.0 137.0 L686.0 135.7 L687.0 134.7 L688.0 133.8 L689.0 133.1 L690.0 132.3 L691.0 131.6 L692.0 130.8 L693.0 129.8 L694.0 128.7 L695.0 127.8 L696.0 127.2 L697.0 126.7 L698.0 126.1 L699.0 125.5 L700.0 125.1 L701.0 124.3 L702.0 123.5 L703.0 122.7 L704.0 122.3 L705.0 121.9 L706.0 121.4 L707.0 121.0 L708.0 120.6 L709.0 120.1 L710.0 119.7 L711.0 119.3 L712.0 119.0 L713.0 118.7 L714.0 118.5 L715.0 118.3 L716.0 118.1 L717.0 118.0 L718.0 117.8 L719.0 117.5 L720.0 117.2 L721.0 116.9 L722.0 116.9 L723.0 116.8 L724.0 116.8 L725.0 116.8 L726.0 116.6 L727.0 116.5 L728.0 116.4 L729.0 116.4 L730.0 116.5 L731.0 116.7 L732.0 116.8 L733.0 116.9 L734.0 117.0 L735.0 117.1 L736.0 117.2 L737.0 117.3 L738.0 117.6 L739.0 117.9 L740.0 118.2 L741.0 118.4 L742.0 118.7 L743.0 118.9 L744.0 119.0 L745.0 119.1 L746.0 119.3 L747.0 119.6 L748.0 119.9 L749.0 120.2 L750.0 120.5 L751.0 120.7 L752.0 121.0 L753.0 121.2 L754.0 121.4 L755.0 121.7 L756.0 122.1 L757.0 122.6 L758.0 122.9 L759.0 123.3 L760.0 123.6 L761.0 123.9 L762.0 124.2 L763.0 124.7 L764.0 125.2 L765.0 125.8 L766.0 126.3 L767.0 127.0 L768.0 127.5 L769.0 128.0 L770.0 128.5 L771.0 129.0 L772.0 129.6 L773.0 130.2 L774.0 130.9 L775.0 131.6 L776.0 132.2 L777.0 132.9 L778.0 133.4 L779.0 133.9 L780.0 134.4 L781.0 134.9 L782.0 135.5 L783.0 136.2 L784.0 136.9 L785.0 137.6 L786.0 138.3 L787.0 138.8 L788.0 139.2 L789.0 139.5 L790.0 140.2 L791.0 141.0 L792.0 141.7 L793.0 142.4 L794.0 142.9 L795.0 143.4 L796.0 144.0 L797.0 144.5 L798.0 145.1 L799.0 145.8 L800.0 146.6 L801.0 147.4 L802.0 148.1 L803.0 148.5 L804.0 149.0 L805.0 149.5 L806.0 150.2 L807.0 150.9 L808.0 151.6 L809.0 152.3 L810.0 153.0 L811.0 153.5 L812.0 154.0 L813.0 154.6 L814.0 155.4 L815.0 156.2 L816.0 156.9 L817.0 157.8 L818.0 158.2 L819.0 158.7 L820.0 159.2 L821.0 159.9 L822.0 160.8 L823.0 161.6 L824.0 162.5 L825.0 163.3 L826.0 164.0 L827.0 164.4 L828.0 164.9 L829.0 165.6 L830.0 166.4 L831.0 167.1 L832.0 167.9 L833.0 168.7 L834.0 169.4 L835.0 170.1 L836.0 170.7 L837.0 171.2 L838.0 171.8 L839.0 172.6 L840.0 173.5 L841.0 174.3 L842.0 175.2 L843.0 176.0 L844.0 176.5 L845.0 176.9 L846.0 177.5 L847.0 178.3 L848.0 179.1 L849.0 179.8 L850.0 180.6 L851.0 181.4 L852.0 182.0 L853.0 182.6 L854.0 183.2 L855.0 183.7 L856.0 184.5 L857.0 185.4 L858.0 186.2 L859.0 186.9 L860.0 187.7 L861.0 188.5 L862.0 188.9 L863.0 189.3 L864.0 190.2 L865.0 191.1 L866.0 191.9 L867.0 192.8 L868.0 193.6 L869.0 194.2 L870.0 194.8 L871.0 195.4 L872.0 196.0 L873.0 196.9 L874.0 197.7 L875.0 198.6 L876.0 199.5 L877.0 200.2 L878.0 200.6 L879.0 201.1 L880.0 201.8 L881.0 202.6 L882.0 203.3 L883.0 204.1 L884.0 204.7 L885.0 205.3 L886.0 205.8 L887.0 206.3 L888.0 206.9 L889.0 207.7 L890.0 208.4 L891.0 209.1 L892.0 209.9 L893.0 210.6 L894.0 211.0 L895.0 211.3 L896.0 212.0 L897.0 212.7 L898.0 213.5 L899.0 214.2 L900.0 214.9 L901.0 215.5 L902.0 216.1 L903.0 216.7 L904.0 217.2 L905.0 217.9 L906.0 218.7 L907.0 219.5 L908.0 220.2 L909.0 221.1 L910.0 221.7 L911.0 222.3 L912.0 222.8 L913.0 223.5 L914.0 224.4 L915.0 225.3 L916.0 226.2 L917.0 226.8 L918.0 227.3 L919.0 227.8 L920.0 228.4 L921.0 229.1 L922.0 229.9 L923.0 230.7 L924.0 231.4 L925.0 232.0 L926.0 232.5 L927.0 233.0 L928.0 233.5 L929.0 234.0 L930.0 234.6 L931.0 235.3 L932.0 236.0 L933.0 236.7 L934.0 237.5 L935.0 238.0 L936.0 238.4 L937.0 238.8 L938.0 239.2 L939.0 239.9 L940.0 240.5 L941.0 241.2 L942.0 241.8 L943.0 242.5 L944.0 243.2 L945.0 243.8 L946.0 244.3 L947.0 244.7 L948.0 245.2 L949.0 246.0 L950.0 246.6 L951.0 247.3 L952.0 248.0 L953.0 248.7 L954.0 249.4 L955.0 249.7 L956.0 250.2 L957.0 250.7 L958.0 251.3 L959.0 251.9 L960.0 252.6 L961.0 253.2 L962.0 253.7 L963.0 254.2 L964.0 254.6 L965.0 255.0 L966.0 255.5 L967.0 256.1 L968.0 256.7 L969.0 257.2 L970.0 257.8 L971.0 258.3 L972.0 258.8 L973.0 259.3 L974.0 259.7 L975.0 260.1 L976.0 260.7 L977.0 261.3 L978.0 261.8 L979.0 262.4 L980.0 263.0 L981.0 263.4 L982.0 263.8 L983.0 264.2 L984.0 264.9 L985.0 265.4 L986.0 266.0 L987.0 266.6 L988.0 267.1 L989.0 267.5 L990.0 267.9 L991.0 268.4 L992.0 269.0 L993.0 269.6 L994.0 270.1 L995.0 270.8 L996.0 271.4 L997.0 271.7 L998.0 271.9 L999.0 272.5 L1000.0 273.2 L1001.0 273.8 L1002.0 274.5 L1003.0 275.1 L1004.0 275.5 L1005.0 275.9 L1006.0 276.3 L1007.0 276.9 L1008.0 277.5 L1009.0 278.1 L1010.0 278.7 L1011.0 279.3 L1012.0 279.8 L1013.0 280.3 L1014.0 280.7 L1015.0 280.9 L1016.0 281.6 L1017.0 282.2 L1018.0 282.8 L1019.0 283.4 L1020.0 283.9 L1021.0 284.5 L1022.0 284.9 L1023.0 285.2 L1024.0 285.6 L1025.0 286.0 L1026.0 286.5 L1027.0 287.1 L1028.0 287.7 L1029.0 288.3 L1030.0 288.7 L1031.0 289.0 L1032.0 289.3 L1033.0 289.7 L1034.0 290.1 L1035.0 290.6 L1036.0 291.1 L1037.0 291.6 L1038.0 292.1 L1039.0 292.6 L1040.0 293.1 L1041.0 293.4 L1042.0 293.7 L1043.0 293.9 L1044.0 294.5 L1045.0 295.0 L1046.0 295.5 L1047.0 296.0 L1048.0 296.5 L1049.0 296.8 L1050.0 297.1 L1051.0 297.4 L1052.0 297.7 L1053.0 298.1 L1054.0 298.6 L1055.0 299.0 L1056.0 299.5 L1057.0 300.0 L1058.0 300.3 L1059.0 300.6 L1060.0 300.9 L1061.0 301.2 L1062.0 301.6 L1063.0 302.1 L1064.0 302.5 L1065.0 302.9 L1066.0 303.4 L1067.0 303.8 L1068.0 304.1 L1069.0 304.4 L1070.0 304.6 L1071.0 304.9 L1072.0 305.3 L1073.0 305.8 L1074.0 306.3 L1075.0 306.7 L1076.0 307.0 L1077.0 307.2 L1078.0 307.5 L1079.0 307.6 L1080.0 307.9 L1081.0 308.2"/>
</g>
<rect x="766" y="329.6" width="9" height="3.6" fill="#fff"/>
<g stroke="#161616" fill="none">
<path stroke-width="3.0" d="M115.8 67.1 V780.4 M100.2 778.9 H1081.8000000000002"/>
<path stroke-width="3.0" stroke="#1c1c1c" d="M107.6 68.5 H1081.9 M1080.4 68.5 V329 M1080.4 771.3 V793.9"/>
<path stroke-width="2.8" d="M115.9 778.9 v15 M164.1 778.9 v8.2 M212.4 778.9 v15 M260.6 778.9 v8.2 M308.8 778.9 v15 M357.1 778.9 v8.2 M405.3 778.9 v15 M453.5 778.9 v8.2 M501.8 778.9 v15 M550.0 778.9 v8.2 M598.2 778.9 v15 M646.5 778.9 v8.2 M694.7 778.9 v15 M743.0 778.9 v8.2 M791.2 778.9 v15 M839.4 778.9 v8.2 M887.7 778.9 v15 M935.9 778.9 v8.2 M984.1 778.9 v15 M1032.4 778.9 v8.2 M115.8 722.1 h-8.2 M115.8 667.6 h-15.6 M115.8 613.1 h-8.2 M115.8 558.6 h-15.6 M115.8 504.1 h-8.2 M115.8 449.6 h-15.6 M115.8 395.1 h-8.2 M115.8 340.6 h-15.6 M115.8 286.1 h-8.2 M115.8 231.6 h-15.6 M115.8 177.1 h-8.2 M115.8 122.6 h-15.6 "/>
<path stroke-width="1.6" stroke="#1c1c1c" d="M164.1 66.3 v4.4 M212.4 66.3 v4.4 M260.6 66.3 v4.4 M308.8 66.3 v4.4 M357.1 66.3 v4.4 M405.3 66.3 v4.4 M453.5 66.3 v4.4 M501.8 66.3 v4.4 M550.0 66.3 v4.4 M598.2 66.3 v4.4 M646.5 66.3 v4.4 M694.7 66.3 v4.4 M743.0 66.3 v4.4 M791.2 66.3 v4.4 M839.4 66.3 v4.4 M887.7 66.3 v4.4 M935.9 66.3 v4.4 M984.1 66.3 v4.4 M1032.4 66.3 v4.4 M1078.2 286.1 h4.4 M1078.2 231.6 h4.4 M1078.2 177.1 h4.4 M1078.2 122.6 h4.4 "/>
</g>
<g font-size="33">
<text transform="translate(115.9,828.6) scale(1,1.06)" text-anchor="middle">-10</text>
<text transform="translate(212.4,828.6) scale(1,1.06)" text-anchor="middle">-8</text>
<text transform="translate(308.8,828.6) scale(1,1.06)" text-anchor="middle">-6</text>
<text transform="translate(405.3,828.6) scale(1,1.06)" text-anchor="middle">-4</text>
<text transform="translate(501.8,828.6) scale(1,1.06)" text-anchor="middle">-2</text>
<text transform="translate(598.2,828.6) scale(1,1.06)" text-anchor="middle">0</text>
<text transform="translate(694.7,828.6) scale(1,1.06)" text-anchor="middle">2</text>
<text transform="translate(791.2,828.6) scale(1,1.06)" text-anchor="middle">4</text>
<text transform="translate(887.7,828.6) scale(1,1.06)" text-anchor="middle">6</text>
<text transform="translate(984.1,828.6) scale(1,1.06)" text-anchor="middle">8</text>
<text transform="translate(1082.1,828.6) scale(1,1.06)" text-anchor="middle">10</text>
<text transform="translate(92.3,789.1) scale(1,1.06)" text-anchor="end">-3</text>
<text transform="translate(92.3,677.8) scale(1,1.06)" text-anchor="end">-2</text>
<text transform="translate(92.3,568.8) scale(1,1.06)" text-anchor="end">-1</text>
<text transform="translate(92.3,459.8) scale(1,1.06)" text-anchor="end">0</text>
<text transform="translate(92.3,350.8) scale(1,1.06)" text-anchor="end">1</text>
<text transform="translate(92.3,241.8) scale(1,1.06)" text-anchor="end">2</text>
<text transform="translate(92.3,132.8) scale(1,1.06)" text-anchor="end">3</text>
</g>
<text x="597.4" y="883.9" font-size="39.6" text-anchor="middle" textLength="272.5" lengthAdjust="spacingAndGlyphs">Detuning (MHz)</text>
<text transform="translate(31.3,435.2) rotate(-90)" font-size="37.6" text-anchor="middle" textLength="311" lengthAdjust="spacingAndGlyphs">Intensity (Arb. U.)</text>
<rect x="232.5" y="86.3" width="272.5" height="262.5" fill="#fff" stroke="#8a8a8a" stroke-width="1.2"/>
<g font-size="33.5" style="word-spacing:3px">
<path d="M235.6 110.3 H316.3" stroke="#c4161e" stroke-width="2.7" fill="none"/><text x="322.5" y="121.3">2413 µV/cm</text>
<path d="M235.6 154.4 H316.3" stroke="#2634a0" stroke-width="2.7" fill="none"/><text x="322.5" y="165.4">1706 µV/cm</text>
<path d="M235.6 198.8 H316.3" stroke="#70b222" stroke-width="2.7" fill="none"/><text x="322.5" y="209.8">1207 µV/cm</text>
<path d="M235.6 240.9 H316.3" stroke="#701880" stroke-width="2.7" fill="none"/><text x="322.5" y="251.9">853 µV/cm</text>
<path d="M235.6 285.3 H316.3" stroke="#b660ae" stroke-width="2.7" fill="none"/><text x="322.5" y="296.3">428 µV/cm</text>
<path d="M235.6 329 H316.3" stroke="#0a0a0a" stroke-width="2.7" fill="none"/><text x="322.5" y="340.0">0 µV/cm</text>
</g>
<path d="M1078.65 671.9 L1116.7 626.7" stroke="#3c3c3e" stroke-width="13.2" fill="none"/>
<g stroke="#5b9c32" fill="none">
<path stroke-width="5.6" d="M737.2 646 H1099.8"/>
<path stroke-width="5.8" stroke-linecap="round" d="M1096.9 524.5 V646"/>
<path stroke-width="0" d=""/><path stroke="none" fill="#5b9c32" d="M1087.9 607 L1091.1 607 L1094.3 613 L1094.3 620.4 Z M1104.5 607 L1101.4 607 L1099.5 610.6 L1099.5 620.4 Z"/>
</g>
<g stroke="#ae1520" fill="none">
<path stroke-width="5.8" d="M737.2 660.7 L1100 661 L1498.8 662"/>
<path stroke="none" fill="#ae1520" d="M770.1 651.4 L783.4 659.2 L783.4 662.4 L770.1 668.4 L770.1 665 L777.6 660.8 L770.1 654.8 Z"/>
</g>
<g fill="#5680c0" stroke="#405a92" stroke-width="5.4" stroke-linejoin="round">
<path d="M870.8 460 L917.2 460 L940.9 552.5 L849.8 552.5 Z"/>
<rect x="861.3" y="397.4" width="65.1" height="62.6" rx="8.7" ry="8.7"/>
</g>
<path d="M896.6 614.2 L816.7 683.2 L977.5 683.2 Z" fill="none" stroke="#405a92" stroke-width="5.5" stroke-linejoin="round"/>
<g stroke="#111" fill="none">
<circle cx="1403.5" cy="477.7" r="51.2" stroke-width="3.4"/>
<path stroke-width="1.8" d="M1403 426.5 V529 M1352.3 477.4 H1454.7"/>
<path stroke-width="2.0" d="M1427 527.5 L1484 596"/>
</g>
<path d="M1490.3 603.4 L1475.4 597.0 L1485.2 588.8 Z" fill="#111"/>
<g font-size="23.5" text-anchor="middle">
<text x="1381.7" y="463.4">A</text><text x="1424.5" y="463.4">B</text><text x="1381.4" y="507.8">C</text><text x="1425.3" y="507.8">D</text>
</g>
<g font-size="29" text-anchor="middle">
<text x="1403.7" y="382.7">Quadrant</text><text x="1403.8" y="414.7">Detector</text>
</g>
<g fill="#cf8a2e" stroke="#aa6826" stroke-width="5.5" stroke-linejoin="round">
<path d="M1510.45 625.8 H1559.5 A9 36.7 0 0 1 1559.5 699.2 H1510.45 A11.55 36.7 0 0 1 1510.45 625.8 Z"/>
<path fill="none" d="M1510.45 625.8 A11.55 36.7 0 0 1 1510.45 699.2"/>
</g>
<text x="1501.2" y="600.4" font-size="38.2">PD</text>
<g stroke="#4a7ec0" fill="none" stroke-width="2.6" stroke-linecap="round" stroke-linejoin="round">
<path d="M1454.4 671.5 V717 M1447 685 L1454.4 671 L1461.8 685 M1447 703.5 L1454.4 717.5 L1461.8 703.5"/>
</g>
<text x="830.6" y="355" font-size="38.9">Antenna</text>
<text x="798.8" y="738.9" font-size="38.9">Cs Vapor Cell</text>
<text x="1028.3" y="708.8" font-size="39.1">Dichroic</text>
<text x="1053.6" y="753.8" font-size="38.9">Mirror</text>
<text transform="translate(725.3,719.6) scale(1.08,1)" font-size="49.5" stroke-width="0.6">Ω</text><text x="764.8" y="724.6" font-size="27">P</text>
<text transform="translate(1017.6,596.3) scale(1.09,1)" font-size="49.5" stroke-width="0.6">Ω</text><text x="1059" y="602.3" font-size="27">C</text>
</g>
</svg>
</body></html>
